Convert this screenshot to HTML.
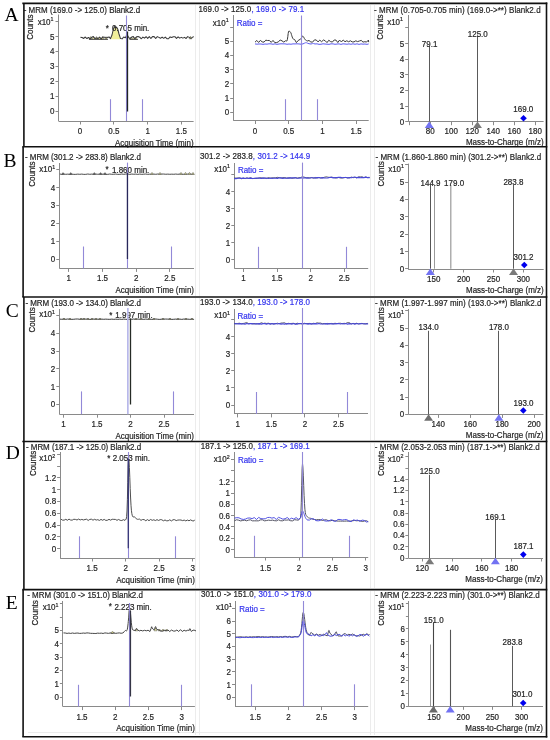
<!DOCTYPE html>
<html><head><meta charset="utf-8"><style>
html,body{margin:0;padding:0;background:#fff;}
svg{display:block;font-family:"Liberation Sans", Arial, sans-serif;}
</style></head><body>
<svg width="550" height="740" viewBox="0 0 550 740">
<rect width="550" height="740" fill="#fff"/>
<line x1="195.50" y1="5.00" x2="195.50" y2="146.00" stroke="#ececec" stroke-width="1" />
<line x1="199.50" y1="5.00" x2="199.50" y2="146.00" stroke="#ececec" stroke-width="1" />
<line x1="370.50" y1="5.00" x2="370.50" y2="146.00" stroke="#ececec" stroke-width="1" />
<line x1="374.50" y1="5.00" x2="374.50" y2="146.00" stroke="#ececec" stroke-width="1" />
<text transform="translate(23.70,13.00) scale(0.89,1)" fill="#262626" stroke="#262626" stroke-width="0.22" font-size="9" textLength="130.90" lengthAdjust="spacing">- MRM (169.0 -&gt; 125.0) Blank2.d</text>
<text transform="translate(33.30,39.80) rotate(-90) scale(0.89,1)" fill="#262626" stroke="#262626" stroke-width="0.22" font-size="9">Counts</text>
<text transform="translate(53.50,24.50) scale(0.89,1)" text-anchor="end" fill="#262626" stroke="#262626" stroke-width="0.22" font-size="9">x10<tspan font-size="6" dy="-3.4">1</tspan></text>
<line x1="58.50" y1="14.50" x2="58.50" y2="121.00" stroke="#8a8a8a" stroke-width="1" />
<line x1="55.50" y1="111.50" x2="58.50" y2="111.50" stroke="#8a8a8a" stroke-width="1" />
<text transform="translate(54.50,114.40) scale(0.89,1)" text-anchor="end" fill="#262626" stroke="#262626" stroke-width="0.22" font-size="9" >0</text>
<line x1="55.50" y1="96.50" x2="58.50" y2="96.50" stroke="#8a8a8a" stroke-width="1" />
<text transform="translate(54.50,99.42) scale(0.89,1)" text-anchor="end" fill="#262626" stroke="#262626" stroke-width="0.22" font-size="9" >1</text>
<line x1="55.50" y1="81.50" x2="58.50" y2="81.50" stroke="#8a8a8a" stroke-width="1" />
<text transform="translate(54.50,84.44) scale(0.89,1)" text-anchor="end" fill="#262626" stroke="#262626" stroke-width="0.22" font-size="9" >2</text>
<line x1="55.50" y1="66.50" x2="58.50" y2="66.50" stroke="#8a8a8a" stroke-width="1" />
<text transform="translate(54.50,69.46) scale(0.89,1)" text-anchor="end" fill="#262626" stroke="#262626" stroke-width="0.22" font-size="9" >3</text>
<line x1="55.50" y1="51.50" x2="58.50" y2="51.50" stroke="#8a8a8a" stroke-width="1" />
<text transform="translate(54.50,54.48) scale(0.89,1)" text-anchor="end" fill="#262626" stroke="#262626" stroke-width="0.22" font-size="9" >4</text>
<line x1="55.50" y1="36.50" x2="58.50" y2="36.50" stroke="#8a8a8a" stroke-width="1" />
<text transform="translate(54.50,39.50) scale(0.89,1)" text-anchor="end" fill="#262626" stroke="#262626" stroke-width="0.22" font-size="9" >5</text>
<line x1="55.50" y1="21.50" x2="58.50" y2="21.50" stroke="#8a8a8a" stroke-width="1" />
<line x1="58.50" y1="121.50" x2="193.60" y2="121.50" stroke="#8a8a8a" stroke-width="1" />
<line x1="80.50" y1="121.00" x2="80.50" y2="124.50" stroke="#8a8a8a" stroke-width="1" />
<text transform="translate(80.00,134.30) scale(0.89,1)" text-anchor="middle" fill="#262626" stroke="#262626" stroke-width="0.22" font-size="9" >0</text>
<line x1="113.50" y1="121.00" x2="113.50" y2="124.50" stroke="#8a8a8a" stroke-width="1" />
<text transform="translate(113.80,134.30) scale(0.89,1)" text-anchor="middle" fill="#262626" stroke="#262626" stroke-width="0.22" font-size="9" >0.5</text>
<line x1="147.50" y1="121.00" x2="147.50" y2="124.50" stroke="#8a8a8a" stroke-width="1" />
<text transform="translate(147.60,134.30) scale(0.89,1)" text-anchor="middle" fill="#262626" stroke="#262626" stroke-width="0.22" font-size="9" >1</text>
<line x1="181.50" y1="121.00" x2="181.50" y2="124.50" stroke="#8a8a8a" stroke-width="1" />
<text transform="translate(181.40,134.30) scale(0.89,1)" text-anchor="middle" fill="#262626" stroke="#262626" stroke-width="0.22" font-size="9" >1.5</text>
<text transform="translate(193.60,145.70) scale(0.89,1)" text-anchor="end" fill="#262626" stroke="#262626" stroke-width="0.22" font-size="9" >Acquisition Time (min)</text>
<polygon points="111.00,39.20 112.00,35.00 113.30,29.50 114.50,26.50 115.50,28.00 116.50,27.00 117.70,29.00 119.00,34.00 120.20,39.20" fill="#f2f09a" stroke="none" stroke-width="0"/>
<polygon points="89.10,39.20 90.50,36.60 91.90,39.20" fill="#f2f09a" stroke="#555" stroke-width="0.5"/>
<polygon points="92.10,39.20 93.50,36.60 94.90,39.20" fill="#f2f09a" stroke="#555" stroke-width="0.5"/>
<polygon points="95.10,39.20 96.50,36.60 97.90,39.20" fill="#f2f09a" stroke="#555" stroke-width="0.5"/>
<polygon points="98.10,39.20 99.50,36.60 100.90,39.20" fill="#f2f09a" stroke="#555" stroke-width="0.5"/>
<polygon points="101.10,39.20 102.50,36.60 103.90,39.20" fill="#f2f09a" stroke="#555" stroke-width="0.5"/>
<polygon points="104.60,39.20 106.00,36.60 107.40,39.20" fill="#f2f09a" stroke="#555" stroke-width="0.5"/>
<polygon points="129.80,39.20 131.00,37.00 132.20,39.20" fill="#f2f09a" stroke="#555" stroke-width="0.5"/>
<polygon points="132.30,39.20 133.50,37.00 134.70,39.20" fill="#f2f09a" stroke="#555" stroke-width="0.5"/>
<polygon points="134.80,39.20 136.00,37.00 137.20,39.20" fill="#f2f09a" stroke="#555" stroke-width="0.5"/>
<polygon points="189.10,38.80 190.50,36.30 191.90,38.80" fill="#f2f09a" stroke="#555" stroke-width="0.5"/>
<line x1="89.00" y1="39.50" x2="108.00" y2="39.50" stroke="#444" stroke-width="0.8" />
<line x1="129.50" y1="39.50" x2="138.00" y2="39.50" stroke="#444" stroke-width="0.8" />
<polyline points="80.50,37.38 82.10,37.46 83.70,38.44 85.30,37.01 86.90,38.51 88.50,37.45 90.10,38.92 91.70,37.31 93.30,36.55 94.90,38.47 96.50,38.11 98.10,38.36 99.70,37.42 101.30,38.91 102.90,36.94 104.50,37.15 106.10,38.13 107.70,37.33 109.30,37.10 110.50,38.60 112.00,35.00 113.30,29.50 114.50,26.50 115.50,28.00 116.50,27.00 117.70,29.00 119.00,34.00 120.50,38.60 122.10,38.85 123.70,37.00 125.30,37.79 125.70,37.08 126.10,36.26 126.50,35.55 126.90,35.17 127.30,35.23 127.70,35.71 128.10,36.41 128.50,37.10 128.90,37.76 130.10,38.63 131.70,37.07 133.30,36.56 134.90,38.75 136.50,36.81 138.10,36.51 139.70,37.24 141.30,38.76 142.90,37.06 144.50,38.18 146.10,36.74 147.70,38.32 149.30,36.63 150.90,38.53 152.50,36.62 154.10,36.64 155.70,38.49 157.30,36.62 158.90,37.38 160.50,38.30 162.10,37.04 163.70,38.33 165.30,37.10 166.90,38.65 168.50,38.78 170.10,36.90 171.70,37.48 173.30,36.73 174.90,36.71 176.50,38.47 178.10,36.88 179.70,38.13 181.30,37.37 182.90,38.11 184.50,37.38 186.10,38.44 187.70,36.63 189.30,37.39 190.90,38.42 192.50,37.41 193.60,36.51" fill="none" stroke="#3a3a3a" stroke-width="1.05" stroke-linejoin="round" />
<text transform="translate(107.40,31.20) scale(0.89,1)" text-anchor="middle" fill="#262626" stroke="#262626" stroke-width="0.22" font-size="9" >*</text>
<text transform="translate(112.00,30.90) scale(0.89,1)" text-anchor="start" fill="#262626" stroke="#262626" stroke-width="0.22" font-size="9" >0.705 min.</text>
<line x1="126.50" y1="15.50" x2="126.50" y2="121.00" stroke="#9289d8" stroke-width="1.1" />
<line x1="110.50" y1="99.20" x2="110.50" y2="121.00" stroke="#9289d8" stroke-width="1.1" />
<line x1="142.50" y1="99.20" x2="142.50" y2="121.00" stroke="#9289d8" stroke-width="1.1" />
<line x1="127.50" y1="31.50" x2="127.50" y2="111.50" stroke="#1f2424" stroke-width="1.3" />
<text transform="translate(198.6,12.0) scale(0.89,1)" fill="#262626" stroke="#262626" stroke-width="0.22" font-size="9" textLength="118.65" lengthAdjust="spacing">169.0 -&gt; 125.0<tspan fill="#3535ee" stroke="#3535ee">, 169.0 -&gt; 79.1</tspan></text>
<text transform="translate(228.60,25.50) scale(0.89,1)" text-anchor="end" fill="#262626" stroke="#262626" stroke-width="0.22" font-size="9">x10<tspan font-size="6" dy="-3.4">1</tspan></text>
<text transform="translate(236.80,25.80) scale(0.89,1)" text-anchor="start" fill="#3535ee" stroke="#3535ee" stroke-width="0.22" font-size="9" >Ratio =</text>
<line x1="233.50" y1="15.00" x2="233.50" y2="120.50" stroke="#8a8a8a" stroke-width="1" />
<line x1="230.20" y1="112.50" x2="233.20" y2="112.50" stroke="#8a8a8a" stroke-width="1" />
<text transform="translate(229.20,115.10) scale(0.89,1)" text-anchor="end" fill="#262626" stroke="#262626" stroke-width="0.22" font-size="9" >0</text>
<line x1="230.20" y1="98.50" x2="233.20" y2="98.50" stroke="#8a8a8a" stroke-width="1" />
<text transform="translate(229.20,100.90) scale(0.89,1)" text-anchor="end" fill="#262626" stroke="#262626" stroke-width="0.22" font-size="9" >1</text>
<line x1="230.20" y1="83.50" x2="233.20" y2="83.50" stroke="#8a8a8a" stroke-width="1" />
<text transform="translate(229.20,86.70) scale(0.89,1)" text-anchor="end" fill="#262626" stroke="#262626" stroke-width="0.22" font-size="9" >2</text>
<line x1="230.20" y1="69.50" x2="233.20" y2="69.50" stroke="#8a8a8a" stroke-width="1" />
<text transform="translate(229.20,72.50) scale(0.89,1)" text-anchor="end" fill="#262626" stroke="#262626" stroke-width="0.22" font-size="9" >3</text>
<line x1="230.20" y1="55.50" x2="233.20" y2="55.50" stroke="#8a8a8a" stroke-width="1" />
<text transform="translate(229.20,58.30) scale(0.89,1)" text-anchor="end" fill="#262626" stroke="#262626" stroke-width="0.22" font-size="9" >4</text>
<line x1="230.20" y1="41.50" x2="233.20" y2="41.50" stroke="#8a8a8a" stroke-width="1" />
<text transform="translate(229.20,44.10) scale(0.89,1)" text-anchor="end" fill="#262626" stroke="#262626" stroke-width="0.22" font-size="9" >5</text>
<line x1="230.20" y1="27.50" x2="233.20" y2="27.50" stroke="#8a8a8a" stroke-width="1" />
<line x1="233.20" y1="120.50" x2="368.70" y2="120.50" stroke="#8a8a8a" stroke-width="1" />
<line x1="255.50" y1="120.50" x2="255.50" y2="124.00" stroke="#8a8a8a" stroke-width="1" />
<text transform="translate(255.00,134.00) scale(0.89,1)" text-anchor="middle" fill="#262626" stroke="#262626" stroke-width="0.22" font-size="9" >0</text>
<line x1="288.50" y1="120.50" x2="288.50" y2="124.00" stroke="#8a8a8a" stroke-width="1" />
<text transform="translate(288.70,134.00) scale(0.89,1)" text-anchor="middle" fill="#262626" stroke="#262626" stroke-width="0.22" font-size="9" >0.5</text>
<line x1="322.50" y1="120.50" x2="322.50" y2="124.00" stroke="#8a8a8a" stroke-width="1" />
<text transform="translate(322.40,134.00) scale(0.89,1)" text-anchor="middle" fill="#262626" stroke="#262626" stroke-width="0.22" font-size="9" >1</text>
<line x1="356.50" y1="120.50" x2="356.50" y2="124.00" stroke="#8a8a8a" stroke-width="1" />
<text transform="translate(356.10,134.00) scale(0.89,1)" text-anchor="middle" fill="#262626" stroke="#262626" stroke-width="0.22" font-size="9" >1.5</text>
<polyline points="255.00,43.92 257.00,44.18 259.00,43.98 261.00,44.00 263.00,44.39 265.00,44.00 267.00,44.17 269.00,43.81 271.00,43.87 273.00,44.25 275.00,43.85 277.00,44.35 279.00,43.99 281.00,43.80 283.00,43.85 285.00,43.86 287.00,44.28 289.00,44.03 291.00,44.23 293.00,43.87 295.00,43.93 297.00,43.80 299.00,43.95 301.00,44.21 303.00,43.86 304.60,43.12 305.00,42.89 305.40,42.75 305.80,42.68 306.20,42.70 306.60,42.81 307.00,42.99 307.40,43.17 309.00,43.71 311.00,44.02 312.20,43.65 312.60,43.57 313.00,43.55 313.40,43.56 313.80,43.64 315.00,43.98 317.00,43.84 319.00,44.35 321.00,44.26 323.00,43.81 325.00,44.00 327.00,44.20 329.00,44.35 331.00,43.84 333.00,43.88 335.00,44.29 337.00,44.04 339.00,43.88 341.00,44.38 343.00,43.83 345.00,43.99 347.00,44.23 349.00,43.90 351.00,44.26 353.00,43.82 355.00,44.27 357.00,43.82 359.00,44.38 361.00,43.91 363.00,44.16 365.00,44.00 367.00,44.35 368.70,43.93" fill="none" stroke="#5c5cee" stroke-width="1.0" stroke-linejoin="round" />
<polyline points="255.00,42.20 256.80,40.44 258.60,42.46 260.40,40.39 262.20,41.89 264.00,42.15 265.80,40.17 267.60,40.52 269.40,40.45 271.20,42.36 273.00,40.42 274.80,42.63 276.60,42.56 278.40,41.87 280.20,39.96 282.00,40.87 283.80,42.08 285.60,40.74 286.80,41.09 287.20,40.21 287.40,39.38 287.80,36.64 288.20,33.49 288.60,31.31 289.00,31.10 289.20,31.26 289.60,31.26 290.00,31.54 290.40,32.05 290.80,32.70 291.00,33.05 291.40,34.42 291.80,35.73 292.20,36.93 292.60,37.98 292.80,38.45 293.20,38.92 293.60,39.24 294.00,39.42 294.60,39.51 296.40,42.61 298.20,40.47 300.00,39.45 300.40,39.30 300.80,38.87 301.20,38.23 301.60,37.60 301.80,37.37 302.20,36.48 302.60,36.13 303.00,36.25 303.40,36.63 303.60,36.83 304.00,37.75 304.40,38.50 304.80,39.09 305.20,39.63 305.40,39.90 305.80,40.12 306.20,40.38 306.60,40.66 307.00,40.90 307.20,41.01 309.00,40.49 310.80,41.95 312.60,42.15 314.40,39.92 316.20,39.93 318.00,41.88 319.80,40.15 321.60,41.73 323.40,40.00 325.20,40.73 327.00,42.61 328.80,40.24 330.60,41.64 332.40,42.06 334.20,39.97 336.00,40.12 337.80,42.54 339.60,40.05 341.40,41.96 343.20,39.98 345.00,41.72 346.80,40.75 348.60,41.76 350.40,40.79 352.20,41.92 354.00,41.90 355.80,40.82 357.60,41.60 359.40,41.00 361.20,40.40 363.00,42.11 364.80,41.70 366.60,42.06 368.40,40.09 368.70,42.15" fill="none" stroke="#3a3a3a" stroke-width="1.0" stroke-linejoin="round" />
<line x1="301.50" y1="15.50" x2="301.50" y2="120.50" stroke="#9289d8" stroke-width="1.1" />
<line x1="285.50" y1="99.20" x2="285.50" y2="120.50" stroke="#9289d8" stroke-width="1.1" />
<line x1="317.50" y1="99.20" x2="317.50" y2="120.50" stroke="#9289d8" stroke-width="1.1" />
<text transform="translate(374.00,13.00) scale(0.89,1)" fill="#262626" stroke="#262626" stroke-width="0.22" font-size="9" textLength="187.19" lengthAdjust="spacing">- MRM (0.705-0.705 min) (169.0-&gt;**) Blank2.d</text>
<text transform="translate(383.30,39.80) rotate(-90) scale(0.89,1)" fill="#262626" stroke="#262626" stroke-width="0.22" font-size="9">Counts</text>
<text transform="translate(403.00,24.50) scale(0.89,1)" text-anchor="end" fill="#262626" stroke="#262626" stroke-width="0.22" font-size="9">x10<tspan font-size="6" dy="-3.4">1</tspan></text>
<line x1="408.50" y1="15.00" x2="408.50" y2="121.70" stroke="#8a8a8a" stroke-width="1" />
<line x1="405.20" y1="121.50" x2="408.20" y2="121.50" stroke="#8a8a8a" stroke-width="1" />
<text transform="translate(404.20,124.70) scale(0.89,1)" text-anchor="end" fill="#262626" stroke="#262626" stroke-width="0.22" font-size="9" >0</text>
<line x1="405.20" y1="106.50" x2="408.20" y2="106.50" stroke="#8a8a8a" stroke-width="1" />
<text transform="translate(404.20,109.06) scale(0.89,1)" text-anchor="end" fill="#262626" stroke="#262626" stroke-width="0.22" font-size="9" >1</text>
<line x1="405.20" y1="90.50" x2="408.20" y2="90.50" stroke="#8a8a8a" stroke-width="1" />
<text transform="translate(404.20,93.42) scale(0.89,1)" text-anchor="end" fill="#262626" stroke="#262626" stroke-width="0.22" font-size="9" >2</text>
<line x1="405.20" y1="74.50" x2="408.20" y2="74.50" stroke="#8a8a8a" stroke-width="1" />
<text transform="translate(404.20,77.78) scale(0.89,1)" text-anchor="end" fill="#262626" stroke="#262626" stroke-width="0.22" font-size="9" >3</text>
<line x1="405.20" y1="59.50" x2="408.20" y2="59.50" stroke="#8a8a8a" stroke-width="1" />
<text transform="translate(404.20,62.14) scale(0.89,1)" text-anchor="end" fill="#262626" stroke="#262626" stroke-width="0.22" font-size="9" >4</text>
<line x1="405.20" y1="43.50" x2="408.20" y2="43.50" stroke="#8a8a8a" stroke-width="1" />
<text transform="translate(404.20,46.50) scale(0.89,1)" text-anchor="end" fill="#262626" stroke="#262626" stroke-width="0.22" font-size="9" >5</text>
<line x1="405.20" y1="27.50" x2="408.20" y2="27.50" stroke="#8a8a8a" stroke-width="1" />
<line x1="408.20" y1="121.50" x2="543.60" y2="121.50" stroke="#8a8a8a" stroke-width="1" />
<line x1="409.50" y1="121.70" x2="409.50" y2="125.20" stroke="#8a8a8a" stroke-width="1" />
<line x1="430.50" y1="121.70" x2="430.50" y2="125.20" stroke="#8a8a8a" stroke-width="1" />
<text transform="translate(430.20,134.00) scale(0.89,1)" text-anchor="middle" fill="#262626" stroke="#262626" stroke-width="0.22" font-size="9" >80</text>
<line x1="451.50" y1="121.70" x2="451.50" y2="125.20" stroke="#8a8a8a" stroke-width="1" />
<text transform="translate(451.20,134.00) scale(0.89,1)" text-anchor="middle" fill="#262626" stroke="#262626" stroke-width="0.22" font-size="9" >100</text>
<line x1="472.50" y1="121.70" x2="472.50" y2="125.20" stroke="#8a8a8a" stroke-width="1" />
<text transform="translate(472.20,134.00) scale(0.89,1)" text-anchor="middle" fill="#262626" stroke="#262626" stroke-width="0.22" font-size="9" >120</text>
<line x1="493.50" y1="121.70" x2="493.50" y2="125.20" stroke="#8a8a8a" stroke-width="1" />
<text transform="translate(493.20,134.00) scale(0.89,1)" text-anchor="middle" fill="#262626" stroke="#262626" stroke-width="0.22" font-size="9" >140</text>
<line x1="514.50" y1="121.70" x2="514.50" y2="125.20" stroke="#8a8a8a" stroke-width="1" />
<text transform="translate(514.20,134.00) scale(0.89,1)" text-anchor="middle" fill="#262626" stroke="#262626" stroke-width="0.22" font-size="9" >160</text>
<line x1="535.50" y1="121.70" x2="535.50" y2="125.20" stroke="#8a8a8a" stroke-width="1" />
<text transform="translate(535.20,134.00) scale(0.89,1)" text-anchor="middle" fill="#262626" stroke="#262626" stroke-width="0.22" font-size="9" >180</text>
<text transform="translate(543.60,145.20) scale(0.89,1)" text-anchor="end" fill="#262626" stroke="#262626" stroke-width="0.22" font-size="9" >Mass-to-Charge (m/z)</text>
<line x1="429.50" y1="46.26" x2="429.50" y2="121.70" stroke="#5a5a5a" stroke-width="1" />
<text transform="translate(429.56,47.46) scale(0.89,1)" text-anchor="middle" fill="#262626" stroke="#262626" stroke-width="0.22" font-size="9" >79.1</text>
<line x1="477.50" y1="35.94" x2="477.50" y2="121.70" stroke="#5a5a5a" stroke-width="1" />
<text transform="translate(477.75,37.14) scale(0.89,1)" text-anchor="middle" fill="#262626" stroke="#262626" stroke-width="0.22" font-size="9" >125.0</text>
<polygon points="424.75,128.10 433.75,128.10 429.25,121.60" fill="#7272f2" stroke="none" stroke-width="0"/>
<polygon points="472.95,128.10 481.95,128.10 477.45,121.60" fill="#7a7a7a" stroke="none" stroke-width="0"/>
<polygon points="523.50,114.90 526.80,118.20 523.50,121.50 520.20,118.20" fill="#0000ee" stroke="none" stroke-width="0"/>
<text transform="translate(523.30,112.20) scale(0.89,1)" text-anchor="middle" fill="#262626" stroke="#262626" stroke-width="0.22" font-size="9" >169.0</text>
<line x1="195.50" y1="148.00" x2="195.50" y2="296.00" stroke="#ececec" stroke-width="1" />
<line x1="199.50" y1="148.00" x2="199.50" y2="296.00" stroke="#ececec" stroke-width="1" />
<line x1="370.50" y1="148.00" x2="370.50" y2="296.00" stroke="#ececec" stroke-width="1" />
<line x1="374.50" y1="148.00" x2="374.50" y2="296.00" stroke="#ececec" stroke-width="1" />
<text transform="translate(24.90,160.00) scale(0.89,1)" fill="#262626" stroke="#262626" stroke-width="0.22" font-size="9" textLength="130.34" lengthAdjust="spacing">- MRM (301.2 -&gt; 283.8) Blank2.d</text>
<text transform="translate(34.50,186.80) rotate(-90) scale(0.89,1)" fill="#262626" stroke="#262626" stroke-width="0.22" font-size="9">Counts</text>
<text transform="translate(55.20,172.00) scale(0.89,1)" text-anchor="end" fill="#262626" stroke="#262626" stroke-width="0.22" font-size="9">x10<tspan font-size="6" dy="-3.4">1</tspan></text>
<line x1="59.50" y1="163.00" x2="59.50" y2="268.40" stroke="#8a8a8a" stroke-width="1" />
<line x1="56.30" y1="259.50" x2="59.30" y2="259.50" stroke="#8a8a8a" stroke-width="1" />
<text transform="translate(55.30,262.10) scale(0.89,1)" text-anchor="end" fill="#262626" stroke="#262626" stroke-width="0.22" font-size="9" >0</text>
<line x1="56.30" y1="241.50" x2="59.30" y2="241.50" stroke="#8a8a8a" stroke-width="1" />
<text transform="translate(55.30,244.20) scale(0.89,1)" text-anchor="end" fill="#262626" stroke="#262626" stroke-width="0.22" font-size="9" >1</text>
<line x1="56.30" y1="223.50" x2="59.30" y2="223.50" stroke="#8a8a8a" stroke-width="1" />
<text transform="translate(55.30,226.30) scale(0.89,1)" text-anchor="end" fill="#262626" stroke="#262626" stroke-width="0.22" font-size="9" >2</text>
<line x1="56.30" y1="205.50" x2="59.30" y2="205.50" stroke="#8a8a8a" stroke-width="1" />
<text transform="translate(55.30,208.40) scale(0.89,1)" text-anchor="end" fill="#262626" stroke="#262626" stroke-width="0.22" font-size="9" >3</text>
<line x1="56.30" y1="187.50" x2="59.30" y2="187.50" stroke="#8a8a8a" stroke-width="1" />
<text transform="translate(55.30,190.50) scale(0.89,1)" text-anchor="end" fill="#262626" stroke="#262626" stroke-width="0.22" font-size="9" >4</text>
<line x1="56.30" y1="169.50" x2="59.30" y2="169.50" stroke="#8a8a8a" stroke-width="1" />
<line x1="59.30" y1="268.50" x2="194.00" y2="268.50" stroke="#8a8a8a" stroke-width="1" />
<line x1="68.50" y1="268.40" x2="68.50" y2="271.90" stroke="#8a8a8a" stroke-width="1" />
<text transform="translate(68.80,281.20) scale(0.89,1)" text-anchor="middle" fill="#262626" stroke="#262626" stroke-width="0.22" font-size="9" >1</text>
<line x1="102.50" y1="268.40" x2="102.50" y2="271.90" stroke="#8a8a8a" stroke-width="1" />
<text transform="translate(102.50,281.20) scale(0.89,1)" text-anchor="middle" fill="#262626" stroke="#262626" stroke-width="0.22" font-size="9" >1.5</text>
<line x1="136.50" y1="268.40" x2="136.50" y2="271.90" stroke="#8a8a8a" stroke-width="1" />
<text transform="translate(136.20,281.20) scale(0.89,1)" text-anchor="middle" fill="#262626" stroke="#262626" stroke-width="0.22" font-size="9" >2</text>
<line x1="169.50" y1="268.40" x2="169.50" y2="271.90" stroke="#8a8a8a" stroke-width="1" />
<text transform="translate(169.90,281.20) scale(0.89,1)" text-anchor="middle" fill="#262626" stroke="#262626" stroke-width="0.22" font-size="9" >2.5</text>
<text transform="translate(194.00,293.00) scale(0.89,1)" text-anchor="end" fill="#262626" stroke="#262626" stroke-width="0.22" font-size="9" >Acquisition Time (min)</text>
<polyline points="59.80,174.00 61.80,174.37 63.80,174.06 65.80,174.30 67.80,174.14 69.80,174.36 71.80,174.13 73.80,174.37 75.80,174.35 77.80,174.12 79.80,174.31 81.80,174.09 83.80,174.39 85.80,174.33 87.80,174.01 89.80,174.30 91.80,174.10 93.80,174.32 95.80,174.08 97.80,174.28 99.80,174.10 101.80,174.24 103.80,174.12 105.80,174.32 107.80,174.35 109.80,174.02 111.80,174.29 113.80,174.26 115.80,174.06 117.80,174.37 119.80,174.34 121.80,174.03 123.80,174.32 125.80,174.03 127.80,174.03 129.80,174.38 131.80,174.05 133.80,174.24 135.80,174.10 137.80,174.37 139.80,174.06 141.80,174.35 143.80,174.16 145.80,174.04 147.80,174.33 149.80,174.15 151.80,174.28 153.80,174.12 155.80,174.27 157.80,174.00 159.80,174.30 161.80,174.05 163.80,174.06 165.80,174.25 167.80,174.12 169.80,174.29 171.80,174.16 173.80,174.28 175.80,174.05 177.80,174.29 179.80,174.09 181.80,174.26 183.80,174.27 185.80,174.39 187.80,174.09 189.80,174.01 191.80,174.28 193.80,174.01 194.00,174.33" fill="none" stroke="#4a4a4a" stroke-width="1.0" stroke-linejoin="round" />
<polygon points="61.70,174.40 63.00,172.60 64.30,174.40" fill="#666" stroke="#444" stroke-width="0.5"/>
<polygon points="69.40,174.40 70.70,172.60 72.00,174.40" fill="#666" stroke="#444" stroke-width="0.5"/>
<polygon points="93.00,174.40 94.30,172.60 95.60,174.40" fill="#666" stroke="#444" stroke-width="0.5"/>
<polygon points="99.30,174.40 100.60,172.60 101.90,174.40" fill="#666" stroke="#444" stroke-width="0.5"/>
<polygon points="103.70,174.40 105.00,172.60 106.30,174.40" fill="#666" stroke="#444" stroke-width="0.5"/>
<polygon points="150.70,174.40 152.00,172.40 153.30,174.40" fill="#e0e090" stroke="#555" stroke-width="0.5"/>
<polygon points="158.70,174.40 160.00,172.40 161.30,174.40" fill="#e0e090" stroke="#555" stroke-width="0.5"/>
<polygon points="179.70,174.40 181.00,172.40 182.30,174.40" fill="#e0e090" stroke="#555" stroke-width="0.5"/>
<polygon points="184.20,174.40 185.50,172.40 186.80,174.40" fill="#e0e090" stroke="#555" stroke-width="0.5"/>
<polygon points="188.20,174.40 189.50,172.40 190.80,174.40" fill="#e0e090" stroke="#555" stroke-width="0.5"/>
<polygon points="191.70,174.40 193.00,172.40 194.30,174.40" fill="#e0e090" stroke="#555" stroke-width="0.5"/>
<text transform="translate(107.10,172.20) scale(0.89,1)" text-anchor="middle" fill="#262626" stroke="#262626" stroke-width="0.22" font-size="9" >*</text>
<text transform="translate(112.00,173.00) scale(0.89,1)" text-anchor="start" fill="#262626" stroke="#262626" stroke-width="0.22" font-size="9" >1.860 min.</text>
<line x1="127.50" y1="162.60" x2="127.50" y2="268.40" stroke="#9289d8" stroke-width="1.1" />
<line x1="83.50" y1="246.50" x2="83.50" y2="268.40" stroke="#9289d8" stroke-width="1.1" />
<line x1="171.50" y1="246.50" x2="171.50" y2="268.40" stroke="#9289d8" stroke-width="1.1" />
<line x1="127.45" y1="173.00" x2="127.45" y2="259.00" stroke="#28285a" stroke-width="1.3" />
<text transform="translate(200,159.0) scale(0.89,1)" fill="#262626" stroke="#262626" stroke-width="0.22" font-size="9" textLength="123.93" lengthAdjust="spacing">301.2 -&gt; 283.8<tspan fill="#3535ee" stroke="#3535ee">, 301.2 -&gt; 144.9</tspan></text>
<text transform="translate(230.00,171.80) scale(0.89,1)" text-anchor="end" fill="#262626" stroke="#262626" stroke-width="0.22" font-size="9">x10<tspan font-size="6" dy="-3.4">1</tspan></text>
<text transform="translate(237.90,172.60) scale(0.89,1)" text-anchor="start" fill="#3535ee" stroke="#3535ee" stroke-width="0.22" font-size="9" >Ratio =</text>
<line x1="234.50" y1="163.00" x2="234.50" y2="268.50" stroke="#8a8a8a" stroke-width="1" />
<line x1="231.30" y1="259.50" x2="234.30" y2="259.50" stroke="#8a8a8a" stroke-width="1" />
<text transform="translate(230.30,262.70) scale(0.89,1)" text-anchor="end" fill="#262626" stroke="#262626" stroke-width="0.22" font-size="9" >0</text>
<line x1="231.30" y1="242.50" x2="234.30" y2="242.50" stroke="#8a8a8a" stroke-width="1" />
<text transform="translate(230.30,245.70) scale(0.89,1)" text-anchor="end" fill="#262626" stroke="#262626" stroke-width="0.22" font-size="9" >1</text>
<line x1="231.30" y1="225.50" x2="234.30" y2="225.50" stroke="#8a8a8a" stroke-width="1" />
<text transform="translate(230.30,228.70) scale(0.89,1)" text-anchor="end" fill="#262626" stroke="#262626" stroke-width="0.22" font-size="9" >2</text>
<line x1="231.30" y1="208.50" x2="234.30" y2="208.50" stroke="#8a8a8a" stroke-width="1" />
<text transform="translate(230.30,211.70) scale(0.89,1)" text-anchor="end" fill="#262626" stroke="#262626" stroke-width="0.22" font-size="9" >3</text>
<line x1="231.30" y1="191.50" x2="234.30" y2="191.50" stroke="#8a8a8a" stroke-width="1" />
<text transform="translate(230.30,194.70) scale(0.89,1)" text-anchor="end" fill="#262626" stroke="#262626" stroke-width="0.22" font-size="9" >4</text>
<line x1="231.30" y1="174.50" x2="234.30" y2="174.50" stroke="#8a8a8a" stroke-width="1" />
<line x1="234.30" y1="268.50" x2="368.20" y2="268.50" stroke="#8a8a8a" stroke-width="1" />
<line x1="243.50" y1="268.50" x2="243.50" y2="272.00" stroke="#8a8a8a" stroke-width="1" />
<text transform="translate(243.40,281.00) scale(0.89,1)" text-anchor="middle" fill="#262626" stroke="#262626" stroke-width="0.22" font-size="9" >1</text>
<line x1="277.50" y1="268.50" x2="277.50" y2="272.00" stroke="#8a8a8a" stroke-width="1" />
<text transform="translate(277.00,281.00) scale(0.89,1)" text-anchor="middle" fill="#262626" stroke="#262626" stroke-width="0.22" font-size="9" >1.5</text>
<line x1="310.50" y1="268.50" x2="310.50" y2="272.00" stroke="#8a8a8a" stroke-width="1" />
<text transform="translate(310.60,281.00) scale(0.89,1)" text-anchor="middle" fill="#262626" stroke="#262626" stroke-width="0.22" font-size="9" >2</text>
<line x1="344.50" y1="268.50" x2="344.50" y2="272.00" stroke="#8a8a8a" stroke-width="1" />
<text transform="translate(344.20,281.00) scale(0.89,1)" text-anchor="middle" fill="#262626" stroke="#262626" stroke-width="0.22" font-size="9" >2.5</text>
<polyline points="234.30,177.99 236.10,178.13 237.90,177.97 239.70,177.88 241.50,178.71 243.30,178.12 245.10,178.52 246.90,177.99 248.70,178.43 250.50,177.75 252.30,178.57 254.10,178.31 255.90,178.53 257.70,178.35 259.50,177.86 261.30,177.77 263.10,178.37 264.90,177.96 266.70,178.50 268.50,177.58 270.30,178.25 272.10,177.76 273.90,177.91 274.30,177.78 274.70,177.69 275.10,177.66 275.50,177.69 275.70,177.73 277.50,177.36 279.30,177.66 281.10,178.09 282.90,177.68 284.70,177.59 286.50,178.05 288.30,178.07 290.10,177.67 291.90,178.29 293.70,178.09 295.50,177.65 297.30,178.11 299.10,177.66 300.90,177.71 301.30,177.34 301.70,177.04 302.10,176.86 302.50,176.81 302.70,176.83 304.50,177.25 306.30,177.95 308.10,177.65 309.90,177.91 311.70,177.55 313.50,178.20 315.30,177.47 317.10,178.03 318.90,177.47 320.70,177.90 322.50,177.83 324.30,177.28 326.10,176.91 326.50,176.84 326.90,176.84 327.30,176.95 327.70,177.16 327.90,177.28 329.70,177.32 331.50,177.18 333.30,177.50 335.10,177.98 336.90,177.87 338.70,177.47 340.50,178.03 342.30,177.98 344.10,177.73 345.90,177.35 347.70,177.88 349.50,177.88 351.30,177.07 353.10,177.79 354.90,177.04 356.70,177.90 358.50,176.91 359.30,176.75 359.70,176.71 360.10,176.77 360.30,176.85 360.70,176.84 362.10,176.91 363.90,177.52 365.70,177.04 367.50,177.55 369.30,177.25 369.50,177.64" fill="none" stroke="#303040" stroke-width="0.8" stroke-linejoin="round" />
<polyline points="234.30,178.65 236.10,178.59 237.90,178.23 239.70,178.09 241.50,178.42 243.30,178.08 245.10,178.46 246.90,177.98 248.70,178.38 250.50,178.10 252.30,178.40 254.10,178.54 255.90,178.12 257.70,178.08 259.50,178.09 261.30,178.49 263.10,177.86 264.90,178.31 266.70,177.98 268.50,178.49 270.30,177.97 272.10,178.48 273.90,178.04 275.70,178.29 277.50,178.41 279.30,177.73 281.10,177.91 282.90,178.39 284.70,177.97 286.50,178.21 288.30,177.86 290.10,178.08 291.90,177.83 293.70,177.88 295.50,177.84 297.30,178.26 299.10,178.14 300.90,177.73 302.70,178.25 304.50,177.73 306.30,177.82 308.10,178.18 309.90,177.95 311.70,177.77 313.50,177.70 315.30,178.15 317.10,177.67 318.90,177.56 320.70,178.06 322.50,177.63 324.30,178.05 326.10,178.00 327.90,177.82 329.70,177.53 331.50,177.38 333.30,177.85 335.10,177.48 336.90,177.56 338.70,177.39 340.50,177.37 342.30,177.80 344.10,177.46 345.90,177.52 347.70,177.88 349.50,177.50 351.30,177.80 353.10,177.22 354.90,177.21 356.70,177.63 358.50,177.32 360.30,177.71 362.10,177.32 363.90,177.75 365.70,177.17 367.50,177.57 369.30,177.61 369.50,177.28" fill="none" stroke="#4848d8" stroke-width="1.15" stroke-linejoin="round" />
<line x1="302.50" y1="162.60" x2="302.50" y2="268.50" stroke="#9289d8" stroke-width="1.1" />
<line x1="258.50" y1="246.80" x2="258.50" y2="268.50" stroke="#9289d8" stroke-width="1.1" />
<line x1="346.50" y1="246.80" x2="346.50" y2="268.50" stroke="#9289d8" stroke-width="1.1" />
<text transform="translate(375.40,159.60) scale(0.89,1)" fill="#262626" stroke="#262626" stroke-width="0.22" font-size="9" textLength="186.40" lengthAdjust="spacing">- MRM (1.860-1.860 min) (301.2-&gt;**) Blank2.d</text>
<text transform="translate(384.00,186.60) rotate(-90) scale(0.89,1)" fill="#262626" stroke="#262626" stroke-width="0.22" font-size="9">Counts</text>
<text transform="translate(404.00,171.80) scale(0.89,1)" text-anchor="end" fill="#262626" stroke="#262626" stroke-width="0.22" font-size="9">x10<tspan font-size="6" dy="-3.4">1</tspan></text>
<line x1="408.50" y1="163.60" x2="408.50" y2="269.00" stroke="#8a8a8a" stroke-width="1" />
<line x1="405.10" y1="268.50" x2="408.10" y2="268.50" stroke="#8a8a8a" stroke-width="1" />
<text transform="translate(404.10,271.60) scale(0.89,1)" text-anchor="end" fill="#262626" stroke="#262626" stroke-width="0.22" font-size="9" >0</text>
<line x1="405.10" y1="251.50" x2="408.10" y2="251.50" stroke="#8a8a8a" stroke-width="1" />
<text transform="translate(404.10,254.30) scale(0.89,1)" text-anchor="end" fill="#262626" stroke="#262626" stroke-width="0.22" font-size="9" >1</text>
<line x1="405.10" y1="234.50" x2="408.10" y2="234.50" stroke="#8a8a8a" stroke-width="1" />
<text transform="translate(404.10,237.00) scale(0.89,1)" text-anchor="end" fill="#262626" stroke="#262626" stroke-width="0.22" font-size="9" >2</text>
<line x1="405.10" y1="216.50" x2="408.10" y2="216.50" stroke="#8a8a8a" stroke-width="1" />
<text transform="translate(404.10,219.70) scale(0.89,1)" text-anchor="end" fill="#262626" stroke="#262626" stroke-width="0.22" font-size="9" >3</text>
<line x1="405.10" y1="199.50" x2="408.10" y2="199.50" stroke="#8a8a8a" stroke-width="1" />
<text transform="translate(404.10,202.40) scale(0.89,1)" text-anchor="end" fill="#262626" stroke="#262626" stroke-width="0.22" font-size="9" >4</text>
<line x1="405.10" y1="182.50" x2="408.10" y2="182.50" stroke="#8a8a8a" stroke-width="1" />
<text transform="translate(404.10,185.10) scale(0.89,1)" text-anchor="end" fill="#262626" stroke="#262626" stroke-width="0.22" font-size="9" >5</text>
<line x1="405.10" y1="164.50" x2="408.10" y2="164.50" stroke="#8a8a8a" stroke-width="1" />
<line x1="408.10" y1="269.50" x2="543.70" y2="269.50" stroke="#8a8a8a" stroke-width="1" />
<line x1="433.50" y1="269.00" x2="433.50" y2="272.50" stroke="#8a8a8a" stroke-width="1" />
<text transform="translate(433.70,282.20) scale(0.89,1)" text-anchor="middle" fill="#262626" stroke="#262626" stroke-width="0.22" font-size="9" >150</text>
<line x1="463.50" y1="269.00" x2="463.50" y2="272.50" stroke="#8a8a8a" stroke-width="1" />
<text transform="translate(463.60,282.20) scale(0.89,1)" text-anchor="middle" fill="#262626" stroke="#262626" stroke-width="0.22" font-size="9" >200</text>
<line x1="493.50" y1="269.00" x2="493.50" y2="272.50" stroke="#8a8a8a" stroke-width="1" />
<text transform="translate(493.50,282.20) scale(0.89,1)" text-anchor="middle" fill="#262626" stroke="#262626" stroke-width="0.22" font-size="9" >250</text>
<line x1="523.50" y1="269.00" x2="523.50" y2="272.50" stroke="#8a8a8a" stroke-width="1" />
<text transform="translate(523.40,282.20) scale(0.89,1)" text-anchor="middle" fill="#262626" stroke="#262626" stroke-width="0.22" font-size="9" >300</text>
<text transform="translate(543.70,292.80) scale(0.89,1)" text-anchor="end" fill="#262626" stroke="#262626" stroke-width="0.22" font-size="9" >Mass-to-Charge (m/z)</text>
<line x1="430.50" y1="184.50" x2="430.50" y2="268.70" stroke="#555" stroke-width="1" />
<line x1="434.50" y1="184.50" x2="434.50" y2="268.70" stroke="#9a9a9a" stroke-width="1" />
<line x1="450.80" y1="185.00" x2="450.80" y2="268.70" stroke="#9a9a9a" stroke-width="1.2" />
<line x1="513.50" y1="185.00" x2="513.50" y2="268.70" stroke="#5a5a5a" stroke-width="1" />
<text transform="translate(430.50,185.70) scale(0.89,1)" text-anchor="middle" fill="#262626" stroke="#262626" stroke-width="0.22" font-size="9" >144.9</text>
<text transform="translate(454.10,185.70) scale(0.89,1)" text-anchor="middle" fill="#262626" stroke="#262626" stroke-width="0.22" font-size="9" >179.0</text>
<text transform="translate(513.40,184.90) scale(0.89,1)" text-anchor="middle" fill="#262626" stroke="#262626" stroke-width="0.22" font-size="9" >283.8</text>
<polygon points="425.80,275.00 434.80,275.00 430.30,268.50" fill="#7272f2" stroke="none" stroke-width="0"/>
<polygon points="509.00,275.00 518.00,275.00 513.50,268.50" fill="#7a7a7a" stroke="none" stroke-width="0"/>
<polygon points="524.30,261.70 527.60,265.00 524.30,268.30 521.00,265.00" fill="#0000ee" stroke="none" stroke-width="0"/>
<text transform="translate(523.50,259.50) scale(0.89,1)" text-anchor="middle" fill="#262626" stroke="#262626" stroke-width="0.22" font-size="9" >301.2</text>
<line x1="195.50" y1="298.00" x2="195.50" y2="440.00" stroke="#ececec" stroke-width="1" />
<line x1="199.50" y1="298.00" x2="199.50" y2="440.00" stroke="#ececec" stroke-width="1" />
<line x1="370.50" y1="298.00" x2="370.50" y2="440.00" stroke="#ececec" stroke-width="1" />
<line x1="374.50" y1="298.00" x2="374.50" y2="440.00" stroke="#ececec" stroke-width="1" />
<text transform="translate(25.40,306.00) scale(0.89,1)" fill="#262626" stroke="#262626" stroke-width="0.22" font-size="9" textLength="129.78" lengthAdjust="spacing">- MRM (193.0 -&gt; 134.0) Blank2.d</text>
<text transform="translate(34.50,332.60) rotate(-90) scale(0.89,1)" fill="#262626" stroke="#262626" stroke-width="0.22" font-size="9">Counts</text>
<text transform="translate(55.00,317.40) scale(0.89,1)" text-anchor="end" fill="#262626" stroke="#262626" stroke-width="0.22" font-size="9">x10<tspan font-size="6" dy="-3.4">1</tspan></text>
<line x1="59.50" y1="309.00" x2="59.50" y2="414.20" stroke="#8a8a8a" stroke-width="1" />
<line x1="56.30" y1="404.50" x2="59.30" y2="404.50" stroke="#8a8a8a" stroke-width="1" />
<text transform="translate(55.30,407.40) scale(0.89,1)" text-anchor="end" fill="#262626" stroke="#262626" stroke-width="0.22" font-size="9" >0</text>
<line x1="56.30" y1="386.50" x2="59.30" y2="386.50" stroke="#8a8a8a" stroke-width="1" />
<text transform="translate(55.30,389.60) scale(0.89,1)" text-anchor="end" fill="#262626" stroke="#262626" stroke-width="0.22" font-size="9" >1</text>
<line x1="56.30" y1="368.50" x2="59.30" y2="368.50" stroke="#8a8a8a" stroke-width="1" />
<text transform="translate(55.30,371.80) scale(0.89,1)" text-anchor="end" fill="#262626" stroke="#262626" stroke-width="0.22" font-size="9" >2</text>
<line x1="56.30" y1="351.50" x2="59.30" y2="351.50" stroke="#8a8a8a" stroke-width="1" />
<text transform="translate(55.30,354.00) scale(0.89,1)" text-anchor="end" fill="#262626" stroke="#262626" stroke-width="0.22" font-size="9" >3</text>
<line x1="56.30" y1="333.50" x2="59.30" y2="333.50" stroke="#8a8a8a" stroke-width="1" />
<text transform="translate(55.30,336.20) scale(0.89,1)" text-anchor="end" fill="#262626" stroke="#262626" stroke-width="0.22" font-size="9" >4</text>
<line x1="56.30" y1="315.50" x2="59.30" y2="315.50" stroke="#8a8a8a" stroke-width="1" />
<line x1="59.30" y1="414.50" x2="194.00" y2="414.50" stroke="#8a8a8a" stroke-width="1" />
<line x1="63.50" y1="414.20" x2="63.50" y2="417.70" stroke="#8a8a8a" stroke-width="1" />
<text transform="translate(63.50,427.00) scale(0.89,1)" text-anchor="middle" fill="#262626" stroke="#262626" stroke-width="0.22" font-size="9" >1</text>
<line x1="97.50" y1="414.20" x2="97.50" y2="417.70" stroke="#8a8a8a" stroke-width="1" />
<text transform="translate(97.00,427.00) scale(0.89,1)" text-anchor="middle" fill="#262626" stroke="#262626" stroke-width="0.22" font-size="9" >1.5</text>
<line x1="130.50" y1="414.20" x2="130.50" y2="417.70" stroke="#8a8a8a" stroke-width="1" />
<text transform="translate(130.50,427.00) scale(0.89,1)" text-anchor="middle" fill="#262626" stroke="#262626" stroke-width="0.22" font-size="9" >2</text>
<line x1="164.50" y1="414.20" x2="164.50" y2="417.70" stroke="#8a8a8a" stroke-width="1" />
<text transform="translate(164.00,427.00) scale(0.89,1)" text-anchor="middle" fill="#262626" stroke="#262626" stroke-width="0.22" font-size="9" >2.5</text>
<text transform="translate(194.00,439.00) scale(0.89,1)" text-anchor="end" fill="#262626" stroke="#262626" stroke-width="0.22" font-size="9" >Acquisition Time (min)</text>
<polyline points="59.80,319.13 61.80,319.28 63.80,319.02 65.80,319.29 67.80,319.00 69.80,319.28 71.80,319.34 73.80,319.26 75.80,319.03 77.80,319.01 79.80,319.29 81.80,319.13 83.80,319.07 85.80,319.10 87.80,319.09 89.80,319.36 91.80,319.26 93.80,319.06 95.80,319.30 97.80,319.13 99.80,319.34 101.80,319.13 103.80,319.29 105.80,319.13 107.80,319.27 109.80,319.33 111.80,319.14 113.80,319.33 115.80,319.15 117.80,319.35 119.80,319.11 121.80,319.39 123.80,319.07 125.80,319.31 127.80,319.40 129.80,319.13 131.80,319.27 133.80,319.02 135.80,319.37 137.80,319.02 139.80,319.27 141.80,319.07 143.80,319.39 145.80,319.06 147.80,319.32 149.80,319.11 151.80,319.39 153.80,319.08 155.80,319.01 157.80,319.26 159.80,319.40 161.80,319.15 163.80,319.10 165.80,319.06 167.80,319.13 169.80,319.12 171.80,319.38 173.80,319.27 175.80,319.10 177.80,319.30 179.80,319.12 181.80,319.38 183.80,319.07 185.80,319.15 187.80,319.14 189.80,319.33 191.80,319.11 193.80,319.33 194.00,319.05" fill="none" stroke="#3a3a3a" stroke-width="1.0" stroke-linejoin="round" />
<polygon points="62.90,319.40 64.00,318.00 65.10,319.40" fill="#d8d890" stroke="#444" stroke-width="0.6"/>
<polygon points="68.90,319.40 70.00,318.00 71.10,319.40" fill="#d8d890" stroke="#444" stroke-width="0.6"/>
<polygon points="79.90,319.40 81.00,318.00 82.10,319.40" fill="#d8d890" stroke="#444" stroke-width="0.6"/>
<polygon points="82.90,319.40 84.00,318.00 85.10,319.40" fill="#d8d890" stroke="#444" stroke-width="0.6"/>
<polygon points="86.90,319.40 88.00,318.00 89.10,319.40" fill="#d8d890" stroke="#444" stroke-width="0.6"/>
<polygon points="90.90,319.40 92.00,318.00 93.10,319.40" fill="#d8d890" stroke="#444" stroke-width="0.6"/>
<polygon points="94.90,319.40 96.00,318.00 97.10,319.40" fill="#d8d890" stroke="#444" stroke-width="0.6"/>
<polygon points="98.90,319.40 100.00,318.00 101.10,319.40" fill="#d8d890" stroke="#444" stroke-width="0.6"/>
<polygon points="134.90,319.40 136.00,318.00 137.10,319.40" fill="#d8d890" stroke="#444" stroke-width="0.6"/>
<polygon points="139.90,319.40 141.00,318.00 142.10,319.40" fill="#d8d890" stroke="#444" stroke-width="0.6"/>
<polygon points="147.90,319.40 149.00,318.00 150.10,319.40" fill="#d8d890" stroke="#444" stroke-width="0.6"/>
<polygon points="152.90,319.40 154.00,318.00 155.10,319.40" fill="#d8d890" stroke="#444" stroke-width="0.6"/>
<polygon points="161.90,319.40 163.00,318.00 164.10,319.40" fill="#d8d890" stroke="#444" stroke-width="0.6"/>
<polygon points="168.90,319.40 170.00,318.00 171.10,319.40" fill="#d8d890" stroke="#444" stroke-width="0.6"/>
<polygon points="176.90,319.40 178.00,318.00 179.10,319.40" fill="#d8d890" stroke="#444" stroke-width="0.6"/>
<polygon points="184.90,319.40 186.00,318.00 187.10,319.40" fill="#d8d890" stroke="#444" stroke-width="0.6"/>
<polygon points="190.90,319.40 192.00,318.00 193.10,319.40" fill="#d8d890" stroke="#444" stroke-width="0.6"/>
<text transform="translate(110.80,317.50) scale(0.89,1)" text-anchor="middle" fill="#262626" stroke="#262626" stroke-width="0.22" font-size="9" >*</text>
<text transform="translate(115.30,318.20) scale(0.89,1)" text-anchor="start" fill="#262626" stroke="#262626" stroke-width="0.22" font-size="9" >1.997 min.</text>
<line x1="127.85" y1="308.00" x2="127.85" y2="414.20" stroke="#b8b8ea" stroke-width="1.7" />
<line x1="130.50" y1="318.50" x2="130.50" y2="404.50" stroke="#262b26" stroke-width="1.3" />
<line x1="81.50" y1="391.40" x2="81.50" y2="414.20" stroke="#9289d8" stroke-width="1.1" />
<line x1="173.50" y1="391.40" x2="173.50" y2="414.20" stroke="#9289d8" stroke-width="1.1" />
<text transform="translate(200,305.0) scale(0.89,1)" fill="#262626" stroke="#262626" stroke-width="0.22" font-size="9" textLength="123.60" lengthAdjust="spacing">193.0 -&gt; 134.0<tspan fill="#3535ee" stroke="#3535ee">, 193.0 -&gt; 178.0</tspan></text>
<text transform="translate(230.00,317.90) scale(0.89,1)" text-anchor="end" fill="#262626" stroke="#262626" stroke-width="0.22" font-size="9">x10<tspan font-size="6" dy="-3.4">1</tspan></text>
<text transform="translate(237.50,318.80) scale(0.89,1)" text-anchor="start" fill="#3535ee" stroke="#3535ee" stroke-width="0.22" font-size="9" >Ratio =</text>
<line x1="234.50" y1="309.00" x2="234.50" y2="413.90" stroke="#8a8a8a" stroke-width="1" />
<line x1="231.20" y1="405.50" x2="234.20" y2="405.50" stroke="#8a8a8a" stroke-width="1" />
<text transform="translate(230.20,407.90) scale(0.89,1)" text-anchor="end" fill="#262626" stroke="#262626" stroke-width="0.22" font-size="9" >0</text>
<line x1="231.20" y1="387.50" x2="234.20" y2="387.50" stroke="#8a8a8a" stroke-width="1" />
<text transform="translate(230.20,390.80) scale(0.89,1)" text-anchor="end" fill="#262626" stroke="#262626" stroke-width="0.22" font-size="9" >1</text>
<line x1="231.20" y1="370.50" x2="234.20" y2="370.50" stroke="#8a8a8a" stroke-width="1" />
<text transform="translate(230.20,373.70) scale(0.89,1)" text-anchor="end" fill="#262626" stroke="#262626" stroke-width="0.22" font-size="9" >2</text>
<line x1="231.20" y1="353.50" x2="234.20" y2="353.50" stroke="#8a8a8a" stroke-width="1" />
<text transform="translate(230.20,356.60) scale(0.89,1)" text-anchor="end" fill="#262626" stroke="#262626" stroke-width="0.22" font-size="9" >3</text>
<line x1="231.20" y1="336.50" x2="234.20" y2="336.50" stroke="#8a8a8a" stroke-width="1" />
<text transform="translate(230.20,339.50) scale(0.89,1)" text-anchor="end" fill="#262626" stroke="#262626" stroke-width="0.22" font-size="9" >4</text>
<line x1="231.20" y1="319.50" x2="234.20" y2="319.50" stroke="#8a8a8a" stroke-width="1" />
<line x1="234.20" y1="413.50" x2="368.00" y2="413.50" stroke="#8a8a8a" stroke-width="1" />
<line x1="237.50" y1="413.90" x2="237.50" y2="417.40" stroke="#8a8a8a" stroke-width="1" />
<text transform="translate(237.70,427.00) scale(0.89,1)" text-anchor="middle" fill="#262626" stroke="#262626" stroke-width="0.22" font-size="9" >1</text>
<line x1="271.50" y1="413.90" x2="271.50" y2="417.40" stroke="#8a8a8a" stroke-width="1" />
<text transform="translate(271.30,427.00) scale(0.89,1)" text-anchor="middle" fill="#262626" stroke="#262626" stroke-width="0.22" font-size="9" >1.5</text>
<line x1="304.50" y1="413.90" x2="304.50" y2="417.40" stroke="#8a8a8a" stroke-width="1" />
<text transform="translate(304.90,427.00) scale(0.89,1)" text-anchor="middle" fill="#262626" stroke="#262626" stroke-width="0.22" font-size="9" >2</text>
<line x1="338.50" y1="413.90" x2="338.50" y2="417.40" stroke="#8a8a8a" stroke-width="1" />
<text transform="translate(338.50,427.00) scale(0.89,1)" text-anchor="middle" fill="#262626" stroke="#262626" stroke-width="0.22" font-size="9" >2.5</text>
<polyline points="234.20,323.38 236.00,323.88 237.80,323.44 239.60,323.27 241.40,323.74 243.20,323.46 245.00,323.18 245.40,322.87 245.80,322.64 246.20,322.54 246.60,322.58 246.80,322.63 248.60,323.64 250.40,323.49 252.20,323.93 254.00,323.50 255.80,323.80 257.60,323.72 259.40,323.96 261.20,322.73 261.60,322.77 262.00,322.89 262.40,323.10 263.00,323.55 264.80,323.19 266.60,323.47 268.40,323.22 270.20,323.79 272.00,323.73 273.80,323.77 275.60,323.73 277.40,323.23 279.20,323.74 281.00,323.12 282.20,322.95 282.60,322.93 282.80,322.95 283.20,322.83 283.60,322.78 284.00,322.77 284.60,322.80 286.40,323.92 288.20,323.27 290.00,323.85 291.80,323.40 293.60,323.34 295.40,323.96 297.20,323.20 299.00,323.81 300.80,323.76 302.60,323.86 304.40,323.28 306.20,323.74 308.00,323.50 309.80,323.44 311.60,323.99 313.40,323.30 315.20,323.57 317.00,322.85 317.40,322.82 317.80,322.83 318.20,322.91 318.60,323.05 318.80,323.14 320.60,323.09 322.40,323.75 324.20,323.51 326.00,323.79 327.80,323.41 329.60,323.87 331.40,323.45 333.20,323.83 335.00,323.22 336.80,323.73 338.60,323.32 340.40,323.27 342.20,323.76 344.00,323.30 345.80,323.52 347.00,322.82 347.40,322.60 347.60,322.51 348.00,322.46 348.40,322.47 348.80,322.55 349.20,322.67 349.40,322.73 351.20,323.90 353.00,323.35 354.80,323.76 356.60,323.27 358.40,323.86 360.20,323.73 362.00,323.33 363.80,323.89 365.60,323.74 367.40,323.42 368.00,323.96" fill="none" stroke="#303040" stroke-width="0.8" stroke-linejoin="round" />
<polyline points="234.20,324.07 236.00,323.49 237.80,324.00 239.60,323.60 241.40,323.90 243.20,323.72 245.00,324.08 246.80,323.49 248.60,323.94 250.40,323.61 252.20,323.58 254.00,324.05 255.80,323.93 257.60,323.87 259.40,323.66 261.20,324.13 263.00,323.64 264.80,323.64 266.60,324.12 268.40,323.54 270.20,324.14 272.00,323.49 273.80,324.11 275.60,323.53 277.40,323.96 279.20,323.56 281.00,324.13 282.80,323.72 284.60,324.13 286.40,323.69 288.20,323.88 290.00,323.55 291.80,324.08 293.60,323.56 295.40,324.10 297.20,324.12 299.00,323.49 300.80,323.47 302.60,323.93 304.40,323.72 306.20,323.50 308.00,324.10 309.80,323.65 311.60,323.90 313.40,323.93 315.20,323.61 317.00,323.94 318.80,323.53 320.60,323.96 322.40,324.01 324.20,324.04 326.00,323.61 327.80,324.09 329.60,323.53 331.40,323.93 333.20,323.90 335.00,323.92 336.80,323.67 338.60,323.46 340.40,324.01 342.20,323.51 344.00,324.01 345.80,323.50 347.60,324.13 349.40,323.67 351.20,324.01 353.00,323.55 354.80,324.09 356.60,323.51 358.40,323.97 360.20,323.62 362.00,323.71 363.80,323.72 365.60,323.94 367.40,324.01 368.00,323.48" fill="none" stroke="#4848d8" stroke-width="1.15" stroke-linejoin="round" />
<line x1="302.50" y1="308.00" x2="302.50" y2="413.90" stroke="#9289d8" stroke-width="1.1" />
<line x1="256.50" y1="392.00" x2="256.50" y2="413.90" stroke="#9289d8" stroke-width="1.1" />
<line x1="347.50" y1="392.00" x2="347.50" y2="413.90" stroke="#9289d8" stroke-width="1.1" />
<text transform="translate(375.00,306.00) scale(0.89,1)" fill="#262626" stroke="#262626" stroke-width="0.22" font-size="9" textLength="186.97" lengthAdjust="spacing">- MRM (1.997-1.997 min) (193.0-&gt;**) Blank2.d</text>
<text transform="translate(384.00,332.60) rotate(-90) scale(0.89,1)" fill="#262626" stroke="#262626" stroke-width="0.22" font-size="9">Counts</text>
<text transform="translate(404.00,317.60) scale(0.89,1)" text-anchor="end" fill="#262626" stroke="#262626" stroke-width="0.22" font-size="9">x10<tspan font-size="6" dy="-3.4">1</tspan></text>
<line x1="408.50" y1="309.00" x2="408.50" y2="414.40" stroke="#8a8a8a" stroke-width="1" />
<line x1="405.20" y1="414.50" x2="408.20" y2="414.50" stroke="#8a8a8a" stroke-width="1" />
<text transform="translate(404.20,417.20) scale(0.89,1)" text-anchor="end" fill="#262626" stroke="#262626" stroke-width="0.22" font-size="9" >0</text>
<line x1="405.20" y1="397.50" x2="408.20" y2="397.50" stroke="#8a8a8a" stroke-width="1" />
<text transform="translate(404.20,399.98) scale(0.89,1)" text-anchor="end" fill="#262626" stroke="#262626" stroke-width="0.22" font-size="9" >1</text>
<line x1="405.20" y1="379.50" x2="408.20" y2="379.50" stroke="#8a8a8a" stroke-width="1" />
<text transform="translate(404.20,382.76) scale(0.89,1)" text-anchor="end" fill="#262626" stroke="#262626" stroke-width="0.22" font-size="9" >2</text>
<line x1="405.20" y1="362.50" x2="408.20" y2="362.50" stroke="#8a8a8a" stroke-width="1" />
<text transform="translate(404.20,365.54) scale(0.89,1)" text-anchor="end" fill="#262626" stroke="#262626" stroke-width="0.22" font-size="9" >3</text>
<line x1="405.20" y1="345.50" x2="408.20" y2="345.50" stroke="#8a8a8a" stroke-width="1" />
<text transform="translate(404.20,348.32) scale(0.89,1)" text-anchor="end" fill="#262626" stroke="#262626" stroke-width="0.22" font-size="9" >4</text>
<line x1="405.20" y1="328.50" x2="408.20" y2="328.50" stroke="#8a8a8a" stroke-width="1" />
<text transform="translate(404.20,331.10) scale(0.89,1)" text-anchor="end" fill="#262626" stroke="#262626" stroke-width="0.22" font-size="9" >5</text>
<line x1="405.20" y1="310.50" x2="408.20" y2="310.50" stroke="#8a8a8a" stroke-width="1" />
<line x1="408.20" y1="414.50" x2="543.50" y2="414.50" stroke="#8a8a8a" stroke-width="1" />
<line x1="438.50" y1="414.40" x2="438.50" y2="417.90" stroke="#8a8a8a" stroke-width="1" />
<text transform="translate(438.20,426.70) scale(0.89,1)" text-anchor="middle" fill="#262626" stroke="#262626" stroke-width="0.22" font-size="9" >140</text>
<line x1="470.50" y1="414.40" x2="470.50" y2="417.90" stroke="#8a8a8a" stroke-width="1" />
<text transform="translate(470.16,426.70) scale(0.89,1)" text-anchor="middle" fill="#262626" stroke="#262626" stroke-width="0.22" font-size="9" >160</text>
<line x1="502.50" y1="414.40" x2="502.50" y2="417.90" stroke="#8a8a8a" stroke-width="1" />
<text transform="translate(502.12,426.70) scale(0.89,1)" text-anchor="middle" fill="#262626" stroke="#262626" stroke-width="0.22" font-size="9" >180</text>
<line x1="534.50" y1="414.40" x2="534.50" y2="417.90" stroke="#8a8a8a" stroke-width="1" />
<text transform="translate(534.08,426.70) scale(0.89,1)" text-anchor="middle" fill="#262626" stroke="#262626" stroke-width="0.22" font-size="9" >200</text>
<text transform="translate(543.50,437.60) scale(0.89,1)" text-anchor="end" fill="#262626" stroke="#262626" stroke-width="0.22" font-size="9" >Mass-to-Charge (m/z)</text>
<line x1="428.50" y1="330.80" x2="428.50" y2="414.40" stroke="#5a5a5a" stroke-width="1" />
<text transform="translate(428.61,330.40) scale(0.89,1)" text-anchor="middle" fill="#262626" stroke="#262626" stroke-width="0.22" font-size="9" >134.0</text>
<line x1="498.50" y1="330.80" x2="498.50" y2="414.40" stroke="#5a5a5a" stroke-width="1" />
<text transform="translate(498.92,330.40) scale(0.89,1)" text-anchor="middle" fill="#262626" stroke="#262626" stroke-width="0.22" font-size="9" >178.0</text>
<polygon points="424.11,420.70 433.11,420.70 428.61,414.20" fill="#6e6e6e" stroke="none" stroke-width="0"/>
<polygon points="494.42,420.70 503.42,420.70 498.92,414.20" fill="#7272f2" stroke="none" stroke-width="0"/>
<polygon points="523.30,407.20 526.60,410.50 523.30,413.80 520.00,410.50" fill="#0000ee" stroke="none" stroke-width="0"/>
<text transform="translate(523.50,405.50) scale(0.89,1)" text-anchor="middle" fill="#262626" stroke="#262626" stroke-width="0.22" font-size="9" >193.0</text>
<line x1="195.50" y1="443.00" x2="195.50" y2="588.00" stroke="#ececec" stroke-width="1" />
<line x1="199.50" y1="443.00" x2="199.50" y2="588.00" stroke="#ececec" stroke-width="1" />
<line x1="370.50" y1="443.00" x2="370.50" y2="588.00" stroke="#ececec" stroke-width="1" />
<line x1="374.50" y1="443.00" x2="374.50" y2="588.00" stroke="#ececec" stroke-width="1" />
<text transform="translate(26.00,450.00) scale(0.89,1)" fill="#262626" stroke="#262626" stroke-width="0.22" font-size="9" textLength="129.33" lengthAdjust="spacing">- MRM (187.1 -&gt; 125.0) Blank2.d</text>
<text transform="translate(35.70,476.10) rotate(-90) scale(0.89,1)" fill="#262626" stroke="#262626" stroke-width="0.22" font-size="9">Counts</text>
<text transform="translate(55.20,461.30) scale(0.89,1)" text-anchor="end" fill="#262626" stroke="#262626" stroke-width="0.22" font-size="9">x10<tspan font-size="6" dy="-3.4">2</tspan></text>
<line x1="60.50" y1="452.00" x2="60.50" y2="558.00" stroke="#8a8a8a" stroke-width="1" />
<line x1="57.10" y1="548.50" x2="60.10" y2="548.50" stroke="#8a8a8a" stroke-width="1" />
<text transform="translate(56.10,551.50) scale(0.89,1)" text-anchor="end" fill="#262626" stroke="#262626" stroke-width="0.22" font-size="9" >0</text>
<line x1="57.10" y1="536.50" x2="60.10" y2="536.50" stroke="#8a8a8a" stroke-width="1" />
<text transform="translate(56.10,539.73) scale(0.89,1)" text-anchor="end" fill="#262626" stroke="#262626" stroke-width="0.22" font-size="9" >0.2</text>
<line x1="57.10" y1="525.50" x2="60.10" y2="525.50" stroke="#8a8a8a" stroke-width="1" />
<text transform="translate(56.10,527.96) scale(0.89,1)" text-anchor="end" fill="#262626" stroke="#262626" stroke-width="0.22" font-size="9" >0.4</text>
<line x1="57.10" y1="513.50" x2="60.10" y2="513.50" stroke="#8a8a8a" stroke-width="1" />
<text transform="translate(56.10,516.19) scale(0.89,1)" text-anchor="end" fill="#262626" stroke="#262626" stroke-width="0.22" font-size="9" >0.6</text>
<line x1="57.10" y1="501.50" x2="60.10" y2="501.50" stroke="#8a8a8a" stroke-width="1" />
<text transform="translate(56.10,504.42) scale(0.89,1)" text-anchor="end" fill="#262626" stroke="#262626" stroke-width="0.22" font-size="9" >0.8</text>
<line x1="57.10" y1="489.50" x2="60.10" y2="489.50" stroke="#8a8a8a" stroke-width="1" />
<text transform="translate(56.10,492.65) scale(0.89,1)" text-anchor="end" fill="#262626" stroke="#262626" stroke-width="0.22" font-size="9" >1</text>
<line x1="57.10" y1="477.50" x2="60.10" y2="477.50" stroke="#8a8a8a" stroke-width="1" />
<text transform="translate(56.10,480.88) scale(0.89,1)" text-anchor="end" fill="#262626" stroke="#262626" stroke-width="0.22" font-size="9" >1.2</text>
<line x1="57.10" y1="466.50" x2="60.10" y2="466.50" stroke="#8a8a8a" stroke-width="1" />
<line x1="57.10" y1="454.50" x2="60.10" y2="454.50" stroke="#8a8a8a" stroke-width="1" />
<line x1="60.10" y1="558.50" x2="194.90" y2="558.50" stroke="#8a8a8a" stroke-width="1" />
<line x1="92.50" y1="558.00" x2="92.50" y2="561.50" stroke="#8a8a8a" stroke-width="1" />
<text transform="translate(92.10,571.00) scale(0.89,1)" text-anchor="middle" fill="#262626" stroke="#262626" stroke-width="0.22" font-size="9" >1.5</text>
<line x1="125.50" y1="558.00" x2="125.50" y2="561.50" stroke="#8a8a8a" stroke-width="1" />
<text transform="translate(125.60,571.00) scale(0.89,1)" text-anchor="middle" fill="#262626" stroke="#262626" stroke-width="0.22" font-size="9" >2</text>
<line x1="159.50" y1="558.00" x2="159.50" y2="561.50" stroke="#8a8a8a" stroke-width="1" />
<text transform="translate(159.10,571.00) scale(0.89,1)" text-anchor="middle" fill="#262626" stroke="#262626" stroke-width="0.22" font-size="9" >2.5</text>
<line x1="192.50" y1="558.00" x2="192.50" y2="561.50" stroke="#8a8a8a" stroke-width="1" />
<text transform="translate(192.60,571.00) scale(0.89,1)" text-anchor="middle" fill="#262626" stroke="#262626" stroke-width="0.22" font-size="9" >3</text>
<text transform="translate(194.90,582.60) scale(0.89,1)" text-anchor="end" fill="#262626" stroke="#262626" stroke-width="0.22" font-size="9" >Acquisition Time (min)</text>
<polyline points="61.00,519.20 62.60,520.17 64.20,520.12 65.80,519.31 67.40,520.25 69.00,519.09 70.60,520.04 72.20,520.13 73.80,519.28 75.40,519.41 77.00,520.00 78.60,519.09 80.20,519.94 81.80,519.40 83.40,519.96 85.00,519.50 86.60,519.21 88.20,520.44 89.80,519.42 91.40,519.20 93.00,520.18 94.60,519.30 96.20,520.07 97.80,519.66 99.40,520.41 101.00,519.42 102.60,520.25 104.20,519.38 105.80,520.42 107.40,520.26 109.00,519.33 110.60,520.17 112.20,519.27 113.80,519.38 115.40,519.41 117.00,520.33 118.60,519.45 120.20,520.33 121.80,520.50 123.40,519.69 125.00,520.38 126.20,519.02 126.60,516.63 127.00,511.01 127.40,499.45 127.80,482.50 128.20,466.05 128.60,458.43 129.00,460.55 129.40,467.62 129.80,477.60 130.20,488.46 130.60,497.99 131.00,505.32 131.40,510.26 131.80,513.41 132.20,515.23 132.60,516.29 133.00,516.98 133.40,516.98 133.80,516.93 134.20,516.86 134.60,516.81 135.00,517.29 135.40,517.78 135.80,518.26 136.20,518.74 136.60,518.92 137.00,519.09 137.40,519.24 137.80,519.38 138.20,519.32 138.60,519.25 139.00,519.15 139.40,519.05 141.00,520.37 142.60,519.50 144.20,519.64 145.80,520.77 147.40,519.59 149.00,520.69 150.60,519.45 152.20,520.32 153.80,519.79 155.40,520.54 157.00,519.64 158.60,520.47 160.20,519.64 161.80,519.77 163.40,520.80 165.00,519.97 166.60,520.81 168.20,520.74 169.80,519.80 171.40,520.94 173.00,519.77 174.60,519.68 176.20,520.60 177.80,520.09 179.40,519.97 181.00,520.03 182.60,520.61 184.20,520.10 185.80,520.89 187.40,520.08 189.00,520.78 190.60,519.88 192.20,520.73 193.80,521.02 194.50,519.80" fill="none" stroke="#3a3a3a" stroke-width="0.9" stroke-linejoin="round" />
<text transform="translate(108.80,460.90) scale(0.89,1)" text-anchor="middle" fill="#262626" stroke="#262626" stroke-width="0.22" font-size="9" >*</text>
<text transform="translate(112.70,460.50) scale(0.89,1)" text-anchor="start" fill="#262626" stroke="#262626" stroke-width="0.22" font-size="9" >2.053 min.</text>
<line x1="128.50" y1="452.00" x2="128.50" y2="558.00" stroke="#9289d8" stroke-width="1.1" />
<line x1="79.50" y1="536.30" x2="79.50" y2="558.00" stroke="#9289d8" stroke-width="1.1" />
<line x1="175.50" y1="536.30" x2="175.50" y2="558.00" stroke="#9289d8" stroke-width="1.1" />
<line x1="128.25" y1="458.80" x2="128.25" y2="548.30" stroke="#2c2c6c" stroke-width="1.2" />
<text transform="translate(200.7,449.0) scale(0.89,1)" fill="#262626" stroke="#262626" stroke-width="0.22" font-size="9" textLength="122.58" lengthAdjust="spacing">187.1 -&gt; 125.0<tspan fill="#3535ee" stroke="#3535ee">, 187.1 -&gt; 169.1</tspan></text>
<text transform="translate(229.70,462.00) scale(0.89,1)" text-anchor="end" fill="#262626" stroke="#262626" stroke-width="0.22" font-size="9">x10<tspan font-size="6" dy="-3.4">2</tspan></text>
<text transform="translate(237.90,462.80) scale(0.89,1)" text-anchor="start" fill="#3535ee" stroke="#3535ee" stroke-width="0.22" font-size="9" >Ratio =</text>
<line x1="234.50" y1="452.00" x2="234.50" y2="557.00" stroke="#8a8a8a" stroke-width="1" />
<line x1="231.00" y1="549.50" x2="234.00" y2="549.50" stroke="#8a8a8a" stroke-width="1" />
<text transform="translate(230.00,552.50) scale(0.89,1)" text-anchor="end" fill="#262626" stroke="#262626" stroke-width="0.22" font-size="9" >0</text>
<line x1="231.00" y1="538.50" x2="234.00" y2="538.50" stroke="#8a8a8a" stroke-width="1" />
<text transform="translate(230.00,541.18) scale(0.89,1)" text-anchor="end" fill="#262626" stroke="#262626" stroke-width="0.22" font-size="9" >0.2</text>
<line x1="231.00" y1="526.50" x2="234.00" y2="526.50" stroke="#8a8a8a" stroke-width="1" />
<text transform="translate(230.00,529.86) scale(0.89,1)" text-anchor="end" fill="#262626" stroke="#262626" stroke-width="0.22" font-size="9" >0.4</text>
<line x1="231.00" y1="515.50" x2="234.00" y2="515.50" stroke="#8a8a8a" stroke-width="1" />
<text transform="translate(230.00,518.54) scale(0.89,1)" text-anchor="end" fill="#262626" stroke="#262626" stroke-width="0.22" font-size="9" >0.6</text>
<line x1="231.00" y1="504.50" x2="234.00" y2="504.50" stroke="#8a8a8a" stroke-width="1" />
<text transform="translate(230.00,507.22) scale(0.89,1)" text-anchor="end" fill="#262626" stroke="#262626" stroke-width="0.22" font-size="9" >0.8</text>
<line x1="231.00" y1="493.50" x2="234.00" y2="493.50" stroke="#8a8a8a" stroke-width="1" />
<text transform="translate(230.00,495.90) scale(0.89,1)" text-anchor="end" fill="#262626" stroke="#262626" stroke-width="0.22" font-size="9" >1</text>
<line x1="231.00" y1="481.50" x2="234.00" y2="481.50" stroke="#8a8a8a" stroke-width="1" />
<text transform="translate(230.00,484.58) scale(0.89,1)" text-anchor="end" fill="#262626" stroke="#262626" stroke-width="0.22" font-size="9" >1.2</text>
<line x1="231.00" y1="470.50" x2="234.00" y2="470.50" stroke="#8a8a8a" stroke-width="1" />
<line x1="231.00" y1="459.50" x2="234.00" y2="459.50" stroke="#8a8a8a" stroke-width="1" />
<line x1="234.00" y1="557.50" x2="368.20" y2="557.50" stroke="#8a8a8a" stroke-width="1" />
<line x1="265.50" y1="557.00" x2="265.50" y2="560.50" stroke="#8a8a8a" stroke-width="1" />
<text transform="translate(265.65,570.80) scale(0.89,1)" text-anchor="middle" fill="#262626" stroke="#262626" stroke-width="0.22" font-size="9" >1.5</text>
<line x1="299.50" y1="557.00" x2="299.50" y2="560.50" stroke="#8a8a8a" stroke-width="1" />
<text transform="translate(299.00,570.80) scale(0.89,1)" text-anchor="middle" fill="#262626" stroke="#262626" stroke-width="0.22" font-size="9" >2</text>
<line x1="332.50" y1="557.00" x2="332.50" y2="560.50" stroke="#8a8a8a" stroke-width="1" />
<text transform="translate(332.35,570.80) scale(0.89,1)" text-anchor="middle" fill="#262626" stroke="#262626" stroke-width="0.22" font-size="9" >2.5</text>
<line x1="365.50" y1="557.00" x2="365.50" y2="560.50" stroke="#8a8a8a" stroke-width="1" />
<text transform="translate(365.70,570.80) scale(0.89,1)" text-anchor="middle" fill="#262626" stroke="#262626" stroke-width="0.22" font-size="9" >3</text>
<polyline points="234.50,520.80 236.50,519.78 238.50,520.17 240.50,520.88 242.50,520.54 244.50,520.11 246.50,520.79 248.50,520.11 250.50,519.80 252.50,520.85 254.50,520.80 256.50,520.85 258.50,520.82 260.50,519.85 262.50,519.82 264.50,520.84 266.50,520.55 268.50,520.11 270.50,520.45 272.50,520.11 274.50,520.66 276.50,520.83 278.50,519.78 280.50,520.69 282.50,520.82 284.50,519.98 286.50,520.14 288.50,519.87 290.50,520.71 292.50,520.87 294.50,519.71 296.50,519.95 298.50,520.16 300.50,517.58 300.90,513.34 301.30,502.75 301.70,485.39 302.10,468.61 302.50,463.66 302.90,467.14 303.30,475.20 303.70,485.47 304.10,495.53 304.50,503.59 304.90,509.22 305.30,512.59 305.70,514.41 306.10,515.32 306.50,515.80 306.90,516.28 307.30,516.70 307.70,517.11 308.10,517.51 308.50,517.91 308.90,518.01 309.30,518.09 309.70,518.17 310.10,518.24 310.50,518.29 310.90,518.50 311.30,518.69 311.70,518.86 312.10,519.02 312.50,519.16 314.50,519.51 316.50,519.76 318.50,519.51 320.50,519.66 322.50,520.48 324.50,519.86 326.50,519.82 328.50,520.83 330.50,520.79 332.50,520.20 334.50,520.72 336.50,520.97 338.50,521.11 340.50,521.08 342.50,521.13 344.50,521.17 346.50,521.03 348.50,521.20 350.50,521.08 352.50,520.82 354.50,520.45 356.50,520.77 358.50,520.61 360.50,520.92 362.50,521.53 364.50,520.94 366.50,520.74 368.20,521.75" fill="none" stroke="#404050" stroke-width="0.9" stroke-linejoin="round" />
<polyline points="234.50,518.08 236.70,517.67 238.90,517.79 241.10,518.96 243.30,519.45 245.50,519.04 247.70,518.09 249.90,517.99 252.10,518.63 254.30,517.58 256.50,519.47 258.70,517.41 260.90,518.64 263.10,518.83 265.30,518.78 267.50,517.50 269.70,517.43 271.90,518.11 274.10,517.56 276.30,519.44 278.50,517.33 280.70,518.17 282.90,519.19 285.10,518.69 287.30,517.54 289.50,519.38 291.70,518.13 293.90,519.13 296.10,517.58 298.30,519.32 300.50,518.02 300.90,517.04 301.30,515.31 301.70,513.12 302.10,511.34 302.50,510.92 302.70,511.01 303.10,511.64 303.50,512.50 303.90,513.55 304.30,514.70 304.70,515.90 304.90,516.49 305.30,517.35 305.70,518.12 306.10,518.77 306.50,519.29 306.90,519.69 307.10,519.85 309.30,520.12 311.50,518.66 313.70,518.84 315.90,520.60 318.10,520.85 320.30,520.45 322.50,519.01 324.70,520.89 326.90,521.13 329.10,520.65 331.30,519.78 333.50,521.02 335.70,521.34 337.90,519.44 340.10,519.47 342.30,520.05 344.50,519.63 346.70,519.59 348.90,520.97 351.10,521.65 353.30,519.90 355.50,520.41 357.70,520.08 359.90,521.35 362.10,520.12 364.30,520.43 366.50,522.04 368.20,521.58" fill="none" stroke="#4a4ae0" stroke-width="0.95" stroke-linejoin="round" />
<line x1="302.50" y1="452.00" x2="302.50" y2="557.00" stroke="#9289d8" stroke-width="1.1" />
<line x1="254.50" y1="535.80" x2="254.50" y2="557.00" stroke="#9289d8" stroke-width="1.1" />
<line x1="349.50" y1="535.80" x2="349.50" y2="557.00" stroke="#9289d8" stroke-width="1.1" />
<text transform="translate(374.80,450.00) scale(0.89,1)" fill="#262626" stroke="#262626" stroke-width="0.22" font-size="9" textLength="185.28" lengthAdjust="spacing">- MRM (2.053-2.053 min) (187.1-&gt;**) Blank2.d</text>
<text transform="translate(383.50,476.10) rotate(-90) scale(0.89,1)" fill="#262626" stroke="#262626" stroke-width="0.22" font-size="9">Counts</text>
<text transform="translate(403.50,461.60) scale(0.89,1)" text-anchor="end" fill="#262626" stroke="#262626" stroke-width="0.22" font-size="9">x10<tspan font-size="6" dy="-3.4">2</tspan></text>
<line x1="408.50" y1="452.00" x2="408.50" y2="558.00" stroke="#8a8a8a" stroke-width="1" />
<line x1="405.40" y1="558.50" x2="408.40" y2="558.50" stroke="#8a8a8a" stroke-width="1" />
<text transform="translate(404.40,560.90) scale(0.89,1)" text-anchor="end" fill="#262626" stroke="#262626" stroke-width="0.22" font-size="9" >0</text>
<line x1="405.40" y1="546.50" x2="408.40" y2="546.50" stroke="#8a8a8a" stroke-width="1" />
<text transform="translate(404.40,549.66) scale(0.89,1)" text-anchor="end" fill="#262626" stroke="#262626" stroke-width="0.22" font-size="9" >0.2</text>
<line x1="405.40" y1="535.50" x2="408.40" y2="535.50" stroke="#8a8a8a" stroke-width="1" />
<text transform="translate(404.40,538.42) scale(0.89,1)" text-anchor="end" fill="#262626" stroke="#262626" stroke-width="0.22" font-size="9" >0.4</text>
<line x1="405.40" y1="524.50" x2="408.40" y2="524.50" stroke="#8a8a8a" stroke-width="1" />
<text transform="translate(404.40,527.18) scale(0.89,1)" text-anchor="end" fill="#262626" stroke="#262626" stroke-width="0.22" font-size="9" >0.6</text>
<line x1="405.40" y1="513.50" x2="408.40" y2="513.50" stroke="#8a8a8a" stroke-width="1" />
<text transform="translate(404.40,515.94) scale(0.89,1)" text-anchor="end" fill="#262626" stroke="#262626" stroke-width="0.22" font-size="9" >0.8</text>
<line x1="405.40" y1="501.50" x2="408.40" y2="501.50" stroke="#8a8a8a" stroke-width="1" />
<text transform="translate(404.40,504.70) scale(0.89,1)" text-anchor="end" fill="#262626" stroke="#262626" stroke-width="0.22" font-size="9" >1</text>
<line x1="405.40" y1="490.50" x2="408.40" y2="490.50" stroke="#8a8a8a" stroke-width="1" />
<text transform="translate(404.40,493.46) scale(0.89,1)" text-anchor="end" fill="#262626" stroke="#262626" stroke-width="0.22" font-size="9" >1.2</text>
<line x1="405.40" y1="479.50" x2="408.40" y2="479.50" stroke="#8a8a8a" stroke-width="1" />
<text transform="translate(404.40,482.22) scale(0.89,1)" text-anchor="end" fill="#262626" stroke="#262626" stroke-width="0.22" font-size="9" >1.4</text>
<line x1="405.40" y1="468.50" x2="408.40" y2="468.50" stroke="#8a8a8a" stroke-width="1" />
<line x1="405.40" y1="456.50" x2="408.40" y2="456.50" stroke="#8a8a8a" stroke-width="1" />
<line x1="408.40" y1="558.50" x2="543.00" y2="558.50" stroke="#8a8a8a" stroke-width="1" />
<line x1="422.50" y1="558.00" x2="422.50" y2="561.50" stroke="#8a8a8a" stroke-width="1" />
<text transform="translate(422.20,570.90) scale(0.89,1)" text-anchor="middle" fill="#262626" stroke="#262626" stroke-width="0.22" font-size="9" >120</text>
<line x1="452.50" y1="558.00" x2="452.50" y2="561.50" stroke="#8a8a8a" stroke-width="1" />
<text transform="translate(452.00,570.90) scale(0.89,1)" text-anchor="middle" fill="#262626" stroke="#262626" stroke-width="0.22" font-size="9" >140</text>
<line x1="481.50" y1="558.00" x2="481.50" y2="561.50" stroke="#8a8a8a" stroke-width="1" />
<text transform="translate(481.80,570.90) scale(0.89,1)" text-anchor="middle" fill="#262626" stroke="#262626" stroke-width="0.22" font-size="9" >160</text>
<line x1="511.50" y1="558.00" x2="511.50" y2="561.50" stroke="#8a8a8a" stroke-width="1" />
<text transform="translate(511.60,570.90) scale(0.89,1)" text-anchor="middle" fill="#262626" stroke="#262626" stroke-width="0.22" font-size="9" >180</text>
<line x1="541.50" y1="558.00" x2="541.50" y2="561.50" stroke="#8a8a8a" stroke-width="1" />
<text transform="translate(543.00,581.60) scale(0.89,1)" text-anchor="end" fill="#262626" stroke="#262626" stroke-width="0.22" font-size="9" >Mass-to-Charge (m/z)</text>
<line x1="429.50" y1="474.80" x2="429.50" y2="558.00" stroke="#5a5a5a" stroke-width="1" />
<text transform="translate(429.65,474.40) scale(0.89,1)" text-anchor="middle" fill="#262626" stroke="#262626" stroke-width="0.22" font-size="9" >125.0</text>
<line x1="495.50" y1="520.00" x2="495.50" y2="558.00" stroke="#5a5a5a" stroke-width="1" />
<text transform="translate(495.36,519.60) scale(0.89,1)" text-anchor="middle" fill="#262626" stroke="#262626" stroke-width="0.22" font-size="9" >169.1</text>
<polygon points="425.15,564.30 434.15,564.30 429.65,557.80" fill="#7a7a7a" stroke="none" stroke-width="0"/>
<polygon points="490.86,564.30 499.86,564.30 495.36,557.80" fill="#7272f2" stroke="none" stroke-width="0"/>
<polygon points="523.30,551.30 526.60,554.60 523.30,557.90 520.00,554.60" fill="#0000ee" stroke="none" stroke-width="0"/>
<text transform="translate(523.50,549.20) scale(0.89,1)" text-anchor="middle" fill="#262626" stroke="#262626" stroke-width="0.22" font-size="9" >187.1</text>
<line x1="195.50" y1="591.00" x2="195.50" y2="735.00" stroke="#ececec" stroke-width="1" />
<line x1="199.50" y1="591.00" x2="199.50" y2="735.00" stroke="#ececec" stroke-width="1" />
<line x1="370.50" y1="591.00" x2="370.50" y2="735.00" stroke="#ececec" stroke-width="1" />
<line x1="374.50" y1="591.00" x2="374.50" y2="735.00" stroke="#ececec" stroke-width="1" />
<line x1="28.00" y1="732.50" x2="545.00" y2="732.50" stroke="#ececec" stroke-width="1" />
<text transform="translate(27.30,598.00) scale(0.89,1)" fill="#262626" stroke="#262626" stroke-width="0.22" font-size="9" textLength="129.89" lengthAdjust="spacing">- MRM (301.0 -&gt; 151.0) Blank2.d</text>
<text transform="translate(37.70,625.50) rotate(-90) scale(0.89,1)" fill="#262626" stroke="#262626" stroke-width="0.22" font-size="9">Counts</text>
<text transform="translate(58.50,610.40) scale(0.89,1)" text-anchor="end" fill="#262626" stroke="#262626" stroke-width="0.22" font-size="9">x10<tspan font-size="6" dy="-3.4">1</tspan></text>
<line x1="62.50" y1="601.00" x2="62.50" y2="706.60" stroke="#8a8a8a" stroke-width="1" />
<line x1="59.90" y1="697.50" x2="62.90" y2="697.50" stroke="#8a8a8a" stroke-width="1" />
<text transform="translate(58.90,700.00) scale(0.89,1)" text-anchor="end" fill="#262626" stroke="#262626" stroke-width="0.22" font-size="9" >0</text>
<line x1="59.90" y1="683.50" x2="62.90" y2="683.50" stroke="#8a8a8a" stroke-width="1" />
<text transform="translate(58.90,686.65) scale(0.89,1)" text-anchor="end" fill="#262626" stroke="#262626" stroke-width="0.22" font-size="9" >1</text>
<line x1="59.90" y1="670.50" x2="62.90" y2="670.50" stroke="#8a8a8a" stroke-width="1" />
<text transform="translate(58.90,673.30) scale(0.89,1)" text-anchor="end" fill="#262626" stroke="#262626" stroke-width="0.22" font-size="9" >2</text>
<line x1="59.90" y1="657.50" x2="62.90" y2="657.50" stroke="#8a8a8a" stroke-width="1" />
<text transform="translate(58.90,659.95) scale(0.89,1)" text-anchor="end" fill="#262626" stroke="#262626" stroke-width="0.22" font-size="9" >3</text>
<line x1="59.90" y1="643.50" x2="62.90" y2="643.50" stroke="#8a8a8a" stroke-width="1" />
<text transform="translate(58.90,646.60) scale(0.89,1)" text-anchor="end" fill="#262626" stroke="#262626" stroke-width="0.22" font-size="9" >4</text>
<line x1="59.90" y1="630.50" x2="62.90" y2="630.50" stroke="#8a8a8a" stroke-width="1" />
<text transform="translate(58.90,633.25) scale(0.89,1)" text-anchor="end" fill="#262626" stroke="#262626" stroke-width="0.22" font-size="9" >5</text>
<line x1="59.90" y1="617.50" x2="62.90" y2="617.50" stroke="#8a8a8a" stroke-width="1" />
<line x1="59.90" y1="603.50" x2="62.90" y2="603.50" stroke="#8a8a8a" stroke-width="1" />
<line x1="62.90" y1="706.50" x2="194.90" y2="706.50" stroke="#8a8a8a" stroke-width="1" />
<line x1="82.50" y1="706.60" x2="82.50" y2="710.10" stroke="#8a8a8a" stroke-width="1" />
<text transform="translate(82.00,719.90) scale(0.89,1)" text-anchor="middle" fill="#262626" stroke="#262626" stroke-width="0.22" font-size="9" >1.5</text>
<line x1="115.50" y1="706.60" x2="115.50" y2="710.10" stroke="#8a8a8a" stroke-width="1" />
<text transform="translate(115.20,719.90) scale(0.89,1)" text-anchor="middle" fill="#262626" stroke="#262626" stroke-width="0.22" font-size="9" >2</text>
<line x1="148.50" y1="706.60" x2="148.50" y2="710.10" stroke="#8a8a8a" stroke-width="1" />
<text transform="translate(148.40,719.90) scale(0.89,1)" text-anchor="middle" fill="#262626" stroke="#262626" stroke-width="0.22" font-size="9" >2.5</text>
<line x1="181.50" y1="706.60" x2="181.50" y2="710.10" stroke="#8a8a8a" stroke-width="1" />
<text transform="translate(181.60,719.90) scale(0.89,1)" text-anchor="middle" fill="#262626" stroke="#262626" stroke-width="0.22" font-size="9" >3</text>
<text transform="translate(194.90,730.90) scale(0.89,1)" text-anchor="end" fill="#262626" stroke="#262626" stroke-width="0.22" font-size="9" >Acquisition Time (min)</text>
<polygon points="110.50,633.30 112.50,631.20 114.50,633.30" fill="#f2f09a" stroke="#555" stroke-width="0.5"/>
<polygon points="134.90,630.80 136.40,629.00 137.90,630.80" fill="#f2f09a" stroke="#555" stroke-width="0.5"/>
<polygon points="154.00,630.80 155.50,627.80 157.00,630.80" fill="#f2f09a" stroke="#555" stroke-width="0.5"/>
<polygon points="158.00,630.80 159.50,629.00 161.00,630.80" fill="#f2f09a" stroke="#555" stroke-width="0.5"/>
<polygon points="161.50,630.80 163.00,629.00 164.50,630.80" fill="#f2f09a" stroke="#555" stroke-width="0.5"/>
<polygon points="165.00,630.80 166.50,629.00 168.00,630.80" fill="#f2f09a" stroke="#555" stroke-width="0.5"/>
<polyline points="63.50,632.92 65.30,633.01 67.10,633.40 68.90,633.09 70.70,633.43 72.50,633.00 74.30,633.38 76.10,633.13 77.90,633.05 79.70,633.41 81.50,633.30 83.30,633.06 85.10,633.26 86.90,632.90 88.70,633.02 90.50,633.32 92.30,633.36 94.10,633.44 95.90,633.49 97.70,633.13 99.50,633.30 101.30,633.13 103.10,633.47 104.90,632.91 106.70,633.12 108.50,633.36 110.30,632.91 112.10,633.40 113.90,632.91 115.70,633.35 117.50,633.10 119.30,632.90 121.10,633.27 122.90,632.93 124.10,631.92 124.50,631.33 124.70,631.04 125.10,630.63 125.50,630.46 125.90,630.58 126.30,630.81 126.50,630.88 126.90,630.55 127.30,629.40 127.70,627.09 128.10,623.58 128.30,621.47 128.70,617.14 129.10,610.73 129.50,608.53 129.90,608.69 130.10,609.76 130.50,613.29 130.90,617.90 131.30,622.36 131.70,625.83 131.90,627.11 132.30,628.86 132.70,629.75 133.70,630.27 135.50,630.47 135.90,629.41 136.30,628.52 136.70,628.47 137.10,629.00 137.30,629.23 139.10,631.06 140.90,630.30 142.70,630.93 144.50,630.29 146.30,630.81 148.10,630.24 149.90,631.53 151.10,628.48 151.50,626.92 151.70,626.71 152.10,627.86 153.50,629.65 154.30,629.58 154.70,628.63 155.10,627.30 155.30,626.87 155.70,626.54 156.10,627.61 156.50,628.85 157.10,629.47 158.90,629.90 160.70,631.07 162.50,631.18 164.30,630.29 166.10,630.85 167.90,629.96 169.70,631.50 171.50,630.07 173.30,631.02 175.10,631.07 176.90,630.01 178.70,631.52 180.50,629.62 182.30,631.52 184.10,630.23 185.90,631.03 187.70,630.24 189.30,630.34 189.50,629.79 189.90,628.64 190.30,629.07 190.70,630.45 191.30,631.44 193.10,630.17 194.90,630.35 196.00,631.03" fill="none" stroke="#3a3a3a" stroke-width="0.95" stroke-linejoin="round" />
<text transform="translate(110.40,608.80) scale(0.89,1)" text-anchor="middle" fill="#262626" stroke="#262626" stroke-width="0.22" font-size="9" >*</text>
<text transform="translate(114.40,609.50) scale(0.89,1)" text-anchor="start" fill="#262626" stroke="#262626" stroke-width="0.22" font-size="9" >2.223 min.</text>
<line x1="129.50" y1="603.00" x2="129.50" y2="706.60" stroke="#9289d8" stroke-width="1.1" />
<line x1="78.50" y1="684.80" x2="78.50" y2="706.60" stroke="#9289d8" stroke-width="1.1" />
<line x1="181.50" y1="684.80" x2="181.50" y2="706.60" stroke="#9289d8" stroke-width="1.1" />
<line x1="130.45" y1="611.00" x2="130.45" y2="696.50" stroke="#353545" stroke-width="1.3" />
<text transform="translate(200.9,597.0) scale(0.89,1)" fill="#262626" stroke="#262626" stroke-width="0.22" font-size="9" textLength="124.16" lengthAdjust="spacing">301.0 -&gt; 151.0<tspan fill="#3535ee" stroke="#3535ee">, 301.0 -&gt; 179.0</tspan></text>
<text transform="translate(231.80,610.10) scale(0.89,1)" text-anchor="end" fill="#262626" stroke="#262626" stroke-width="0.22" font-size="9">x10<tspan font-size="6" dy="-3.4">1</tspan></text>
<text transform="translate(239.20,611.80) scale(0.89,1)" text-anchor="start" fill="#3535ee" stroke="#3535ee" stroke-width="0.22" font-size="9" >Ratio =</text>
<line x1="235.50" y1="601.00" x2="235.50" y2="706.60" stroke="#8a8a8a" stroke-width="1" />
<line x1="232.00" y1="697.50" x2="235.00" y2="697.50" stroke="#8a8a8a" stroke-width="1" />
<text transform="translate(231.00,700.30) scale(0.89,1)" text-anchor="end" fill="#262626" stroke="#262626" stroke-width="0.22" font-size="9" >0</text>
<line x1="232.00" y1="684.50" x2="235.00" y2="684.50" stroke="#8a8a8a" stroke-width="1" />
<text transform="translate(231.00,687.58) scale(0.89,1)" text-anchor="end" fill="#262626" stroke="#262626" stroke-width="0.22" font-size="9" >1</text>
<line x1="232.00" y1="671.50" x2="235.00" y2="671.50" stroke="#8a8a8a" stroke-width="1" />
<text transform="translate(231.00,674.86) scale(0.89,1)" text-anchor="end" fill="#262626" stroke="#262626" stroke-width="0.22" font-size="9" >2</text>
<line x1="232.00" y1="659.50" x2="235.00" y2="659.50" stroke="#8a8a8a" stroke-width="1" />
<text transform="translate(231.00,662.14) scale(0.89,1)" text-anchor="end" fill="#262626" stroke="#262626" stroke-width="0.22" font-size="9" >3</text>
<line x1="232.00" y1="646.50" x2="235.00" y2="646.50" stroke="#8a8a8a" stroke-width="1" />
<text transform="translate(231.00,649.42) scale(0.89,1)" text-anchor="end" fill="#262626" stroke="#262626" stroke-width="0.22" font-size="9" >4</text>
<line x1="232.00" y1="633.50" x2="235.00" y2="633.50" stroke="#8a8a8a" stroke-width="1" />
<text transform="translate(231.00,636.70) scale(0.89,1)" text-anchor="end" fill="#262626" stroke="#262626" stroke-width="0.22" font-size="9" >5</text>
<line x1="232.00" y1="621.50" x2="235.00" y2="621.50" stroke="#8a8a8a" stroke-width="1" />
<text transform="translate(231.00,623.98) scale(0.89,1)" text-anchor="end" fill="#262626" stroke="#262626" stroke-width="0.22" font-size="9" >6</text>
<line x1="232.00" y1="608.50" x2="235.00" y2="608.50" stroke="#8a8a8a" stroke-width="1" />
<line x1="235.00" y1="706.50" x2="368.20" y2="706.50" stroke="#8a8a8a" stroke-width="1" />
<line x1="255.50" y1="706.60" x2="255.50" y2="710.10" stroke="#8a8a8a" stroke-width="1" />
<text transform="translate(255.35,719.90) scale(0.89,1)" text-anchor="middle" fill="#262626" stroke="#262626" stroke-width="0.22" font-size="9" >1.5</text>
<line x1="288.50" y1="706.60" x2="288.50" y2="710.10" stroke="#8a8a8a" stroke-width="1" />
<text transform="translate(288.50,719.90) scale(0.89,1)" text-anchor="middle" fill="#262626" stroke="#262626" stroke-width="0.22" font-size="9" >2</text>
<line x1="321.50" y1="706.60" x2="321.50" y2="710.10" stroke="#8a8a8a" stroke-width="1" />
<text transform="translate(321.65,719.90) scale(0.89,1)" text-anchor="middle" fill="#262626" stroke="#262626" stroke-width="0.22" font-size="9" >2.5</text>
<line x1="354.50" y1="706.60" x2="354.50" y2="710.10" stroke="#8a8a8a" stroke-width="1" />
<text transform="translate(354.80,719.90) scale(0.89,1)" text-anchor="middle" fill="#262626" stroke="#262626" stroke-width="0.22" font-size="9" >3</text>
<polyline points="235.50,637.07 237.30,637.15 239.10,636.90 240.90,636.75 242.70,637.15 244.50,637.07 246.30,636.82 248.10,637.21 249.90,636.79 251.70,636.99 253.50,636.68 255.30,637.01 257.10,636.60 258.90,636.62 260.70,636.93 262.50,636.65 264.30,636.91 266.10,636.98 267.90,637.11 269.70,636.72 271.50,636.58 273.30,636.63 275.10,637.06 276.90,636.63 278.70,636.97 280.50,636.51 282.30,636.93 284.10,636.44 285.90,636.38 287.70,636.95 289.50,636.39 291.30,636.98 293.10,636.86 294.90,636.42 296.70,636.71 298.50,636.75 300.30,633.86 300.70,632.82 301.10,630.84 301.50,627.66 301.90,623.38 302.10,621.01 302.50,616.35 302.90,613.10 303.30,612.27 303.70,613.11 303.90,613.95 304.30,616.43 304.70,619.51 305.10,622.77 305.50,625.88 305.70,627.29 306.10,629.45 306.50,631.06 306.90,632.15 307.30,632.81 307.50,633.00 309.30,635.55 310.50,633.47 310.90,632.59 311.10,632.46 311.50,632.94 312.90,633.79 314.70,635.19 316.50,634.02 318.30,635.19 320.10,634.40 321.90,635.96 323.70,633.94 325.50,635.23 327.30,635.79 327.70,634.71 328.10,632.99 328.50,631.17 328.90,630.37 329.10,630.52 329.50,631.89 329.90,633.16 330.90,633.98 332.70,636.04 334.50,634.89 334.90,634.06 335.30,633.09 335.70,632.25 336.10,631.84 336.30,631.84 336.70,632.83 337.10,633.95 338.10,635.96 339.90,636.01 341.70,635.94 343.50,634.00 345.30,633.57 347.10,635.50 348.90,634.16 350.70,635.13 352.50,634.02 354.30,635.20 356.10,635.87 357.90,635.72 359.70,635.98 361.50,635.10 363.30,634.26 365.10,635.34 366.90,633.58 368.70,635.32 369.30,634.09" fill="none" stroke="#404050" stroke-width="0.9" stroke-linejoin="round" />
<polyline points="235.50,637.63 237.30,637.27 239.10,637.68 240.90,637.65 242.70,637.28 244.50,637.54 246.30,637.34 248.10,637.58 249.90,637.29 251.70,637.59 253.50,637.60 255.30,637.16 257.10,637.60 258.90,637.17 260.70,637.52 262.50,637.22 264.30,637.51 266.10,637.11 267.90,637.45 269.70,637.41 271.50,637.10 273.30,637.57 275.10,637.01 276.90,637.32 278.70,637.40 280.50,637.07 282.30,637.45 284.10,637.09 285.90,636.96 287.70,637.32 289.50,636.95 291.30,637.43 293.10,637.34 294.90,636.90 296.70,636.96 298.50,636.89 300.30,634.67 300.70,633.95 301.10,632.63 301.50,630.54 301.90,627.74 302.10,626.20 302.50,623.23 302.90,621.18 303.30,620.67 303.70,621.23 303.90,621.78 304.30,623.46 304.70,625.51 305.10,627.68 305.50,629.75 305.70,630.69 306.10,632.03 306.50,633.01 306.90,633.66 307.30,634.03 307.50,634.13 309.30,634.29 311.10,635.85 312.90,634.68 314.70,635.78 316.50,634.59 318.30,635.80 320.10,636.27 321.90,634.69 323.70,635.79 325.50,633.85 325.90,633.20 326.30,632.65 326.70,632.88 327.10,633.88 327.30,634.46 329.10,635.80 330.90,636.26 332.70,635.70 334.50,634.28 336.30,635.56 338.10,634.64 339.90,634.40 341.70,636.40 343.50,634.62 345.30,635.86 347.10,634.56 348.90,636.35 350.70,634.62 352.50,635.85 354.30,634.59 356.10,636.29 357.90,635.95 359.70,634.53 361.50,634.78 363.30,636.24 365.10,634.80 366.90,634.35 368.70,635.62 369.30,636.13" fill="none" stroke="#4a4ae0" stroke-width="1.0" stroke-linejoin="round" />
<line x1="303.50" y1="601.00" x2="303.50" y2="706.60" stroke="#9289d8" stroke-width="1.1" />
<line x1="251.50" y1="684.30" x2="251.50" y2="706.60" stroke="#9289d8" stroke-width="1.1" />
<line x1="354.50" y1="684.30" x2="354.50" y2="706.60" stroke="#9289d8" stroke-width="1.1" />
<text transform="translate(375.30,598.40) scale(0.89,1)" fill="#262626" stroke="#262626" stroke-width="0.22" font-size="9" textLength="184.72" lengthAdjust="spacing">- MRM (2.223-2.223 min) (301.0-&gt;**) Blank2.d</text>
<text transform="translate(384.00,625.80) rotate(-90) scale(0.89,1)" fill="#262626" stroke="#262626" stroke-width="0.22" font-size="9">Counts</text>
<text transform="translate(404.30,610.00) scale(0.89,1)" text-anchor="end" fill="#262626" stroke="#262626" stroke-width="0.22" font-size="9">x10<tspan font-size="6" dy="-3.4">1</tspan></text>
<line x1="408.50" y1="601.00" x2="408.50" y2="706.30" stroke="#8a8a8a" stroke-width="1" />
<line x1="405.90" y1="706.50" x2="408.90" y2="706.50" stroke="#8a8a8a" stroke-width="1" />
<text transform="translate(404.90,709.20) scale(0.89,1)" text-anchor="end" fill="#262626" stroke="#262626" stroke-width="0.22" font-size="9" >0</text>
<line x1="405.90" y1="693.50" x2="408.90" y2="693.50" stroke="#8a8a8a" stroke-width="1" />
<text transform="translate(404.90,696.30) scale(0.89,1)" text-anchor="end" fill="#262626" stroke="#262626" stroke-width="0.22" font-size="9" >1</text>
<line x1="405.90" y1="680.50" x2="408.90" y2="680.50" stroke="#8a8a8a" stroke-width="1" />
<text transform="translate(404.90,683.40) scale(0.89,1)" text-anchor="end" fill="#262626" stroke="#262626" stroke-width="0.22" font-size="9" >2</text>
<line x1="405.90" y1="667.50" x2="408.90" y2="667.50" stroke="#8a8a8a" stroke-width="1" />
<text transform="translate(404.90,670.50) scale(0.89,1)" text-anchor="end" fill="#262626" stroke="#262626" stroke-width="0.22" font-size="9" >3</text>
<line x1="405.90" y1="654.50" x2="408.90" y2="654.50" stroke="#8a8a8a" stroke-width="1" />
<text transform="translate(404.90,657.60) scale(0.89,1)" text-anchor="end" fill="#262626" stroke="#262626" stroke-width="0.22" font-size="9" >4</text>
<line x1="405.90" y1="641.50" x2="408.90" y2="641.50" stroke="#8a8a8a" stroke-width="1" />
<text transform="translate(404.90,644.70) scale(0.89,1)" text-anchor="end" fill="#262626" stroke="#262626" stroke-width="0.22" font-size="9" >5</text>
<line x1="405.90" y1="628.50" x2="408.90" y2="628.50" stroke="#8a8a8a" stroke-width="1" />
<text transform="translate(404.90,631.80) scale(0.89,1)" text-anchor="end" fill="#262626" stroke="#262626" stroke-width="0.22" font-size="9" >6</text>
<line x1="405.90" y1="616.50" x2="408.90" y2="616.50" stroke="#8a8a8a" stroke-width="1" />
<line x1="405.90" y1="603.50" x2="408.90" y2="603.50" stroke="#8a8a8a" stroke-width="1" />
<line x1="408.90" y1="706.50" x2="543.00" y2="706.50" stroke="#8a8a8a" stroke-width="1" />
<line x1="434.50" y1="706.30" x2="434.50" y2="709.80" stroke="#8a8a8a" stroke-width="1" />
<text transform="translate(434.00,719.70) scale(0.89,1)" text-anchor="middle" fill="#262626" stroke="#262626" stroke-width="0.22" font-size="9" >150</text>
<line x1="463.50" y1="706.30" x2="463.50" y2="709.80" stroke="#8a8a8a" stroke-width="1" />
<text transform="translate(463.20,719.70) scale(0.89,1)" text-anchor="middle" fill="#262626" stroke="#262626" stroke-width="0.22" font-size="9" >200</text>
<line x1="492.50" y1="706.30" x2="492.50" y2="709.80" stroke="#8a8a8a" stroke-width="1" />
<text transform="translate(492.40,719.70) scale(0.89,1)" text-anchor="middle" fill="#262626" stroke="#262626" stroke-width="0.22" font-size="9" >250</text>
<line x1="521.50" y1="706.30" x2="521.50" y2="709.80" stroke="#8a8a8a" stroke-width="1" />
<text transform="translate(521.60,719.70) scale(0.89,1)" text-anchor="middle" fill="#262626" stroke="#262626" stroke-width="0.22" font-size="9" >300</text>
<text transform="translate(543.00,730.80) scale(0.89,1)" text-anchor="end" fill="#262626" stroke="#262626" stroke-width="0.22" font-size="9" >Mass-to-Charge (m/z)</text>
<line x1="430.50" y1="644.50" x2="430.50" y2="706.30" stroke="#9a9a9a" stroke-width="1" />
<line x1="433.50" y1="623.00" x2="433.50" y2="706.30" stroke="#444" stroke-width="1.1" />
<line x1="450.50" y1="629.80" x2="450.50" y2="706.30" stroke="#555" stroke-width="1.1" />
<line x1="512.50" y1="646.00" x2="512.50" y2="706.30" stroke="#5a5a5a" stroke-width="1" />
<text transform="translate(433.70,622.70) scale(0.89,1)" text-anchor="middle" fill="#262626" stroke="#262626" stroke-width="0.22" font-size="9" >151.0</text>
<text transform="translate(512.50,645.00) scale(0.89,1)" text-anchor="middle" fill="#262626" stroke="#262626" stroke-width="0.22" font-size="9" >283.8</text>
<polygon points="428.90,712.60 437.90,712.60 433.40,706.10" fill="#6a6a6a" stroke="none" stroke-width="0"/>
<polygon points="445.70,712.60 454.70,712.60 450.20,706.10" fill="#7272f2" stroke="none" stroke-width="0"/>
<polygon points="523.20,699.70 526.50,703.00 523.20,706.30 519.90,703.00" fill="#0000ee" stroke="none" stroke-width="0"/>
<text transform="translate(522.40,697.20) scale(0.89,1)" text-anchor="middle" fill="#262626" stroke="#262626" stroke-width="0.22" font-size="9" >301.0</text>
<line x1="23.90" y1="3.40" x2="23.90" y2="146.70" stroke="#111" stroke-width="1.6" />
<line x1="23.10" y1="146.70" x2="23.10" y2="297.00" stroke="#111" stroke-width="1.6" />
<line x1="23.90" y1="297.00" x2="23.90" y2="441.50" stroke="#111" stroke-width="1.6" />
<line x1="23.90" y1="441.50" x2="23.90" y2="589.60" stroke="#111" stroke-width="1.6" />
<line x1="23.10" y1="589.60" x2="23.10" y2="736.80" stroke="#111" stroke-width="1.6" />
<line x1="546.50" y1="2.60" x2="546.50" y2="737.60" stroke="#111" stroke-width="1.6" />
<line x1="22.30" y1="3.40" x2="547.30" y2="3.40" stroke="#111" stroke-width="1.6" />
<line x1="22.30" y1="146.70" x2="547.30" y2="146.70" stroke="#111" stroke-width="1.6" />
<line x1="22.30" y1="297.00" x2="547.30" y2="297.00" stroke="#111" stroke-width="1.6" />
<line x1="22.30" y1="441.50" x2="547.30" y2="441.50" stroke="#111" stroke-width="1.6" />
<line x1="22.30" y1="589.60" x2="547.30" y2="589.60" stroke="#111" stroke-width="1.6" />
<line x1="22.30" y1="736.80" x2="547.30" y2="736.80" stroke="#111" stroke-width="1.6" />
<text x="4.6" y="21" font-family="Liberation Serif, serif" font-size="19.5" fill="#000">A</text>
<text x="3.4" y="166.5" font-family="Liberation Serif, serif" font-size="19.5" fill="#000">B</text>
<text x="5.85" y="316.8" font-family="Liberation Serif, serif" font-size="19.5" fill="#000">C</text>
<text x="5.65" y="459" font-family="Liberation Serif, serif" font-size="19.5" fill="#000">D</text>
<text x="5.8" y="608.6" font-family="Liberation Serif, serif" font-size="19.5" fill="#000">E</text>
</svg></body></html>
